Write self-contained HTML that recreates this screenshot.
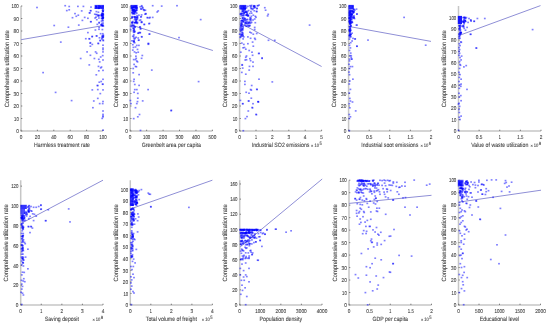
<!DOCTYPE html>
<html><head><meta charset="utf-8"><title>Scatter plots</title>
<style>html,body{margin:0;padding:0;background:#fff;}svg{display:block;}.d{fill:#00f;fill-opacity:0.5;width:1.8px;height:1.6px;}
text{text-rendering:geometricPrecision;font-family:"Liberation Sans",Arial,sans-serif;fill:#444;stroke:#444;stroke-width:0.1px;}</style></head>
<body><svg width="550" height="324" viewBox="0 0 550 324">
<defs><filter id="bl" x="0" y="0" width="550" height="324" filterUnits="userSpaceOnUse"><feGaussianBlur stdDeviation="0.3"/></filter><filter id="bt" x="0" y="0" width="550" height="324" filterUnits="userSpaceOnUse"><feGaussianBlur stdDeviation="0.45"/></filter></defs>
<rect width="550" height="324" fill="#fff"/>
<g filter="url(#bl)">
<path d="M21.0 6.0V131.0H103.0" fill="none" stroke="#c6c6c6" stroke-width="1.5"/>
<path d="M21.00 131.0v-1.3 M37.40 131.0v-1.3 M53.80 131.0v-1.3 M70.20 131.0v-1.3 M86.60 131.0v-1.3 M103.00 131.0v-1.3 M21.0 131.00h1.3 M21.0 118.50h1.3 M21.0 106.00h1.3 M21.0 93.50h1.3 M21.0 81.00h1.3 M21.0 68.50h1.3 M21.0 56.00h1.3 M21.0 43.50h1.3 M21.0 31.00h1.3 M21.0 18.50h1.3 M21.0 6.00h1.3" stroke="#666" stroke-width="0.8" fill="none"/>
<line x1="21.0" y1="39.7" x2="103.0" y2="25.6" stroke="#8f8fd6" stroke-width="1.0"/>
<rect x="94.6" y="4.9" width="9.4" height="4.1" fill="#00f" fill-opacity="0.75"/>
<rect class="d" x="36.1" y="6.7"/>
<rect class="d" x="53.3" y="24.7"/>
<rect class="d" x="59.9" y="41.3"/>
<rect class="d" x="42.2" y="71.8"/>
<rect class="d" x="54.7" y="91.6"/>
<rect class="d" x="70.7" y="99.8"/>
<rect class="d" x="64.3" y="4.9"/>
<rect class="d" x="68.3" y="5.7"/>
<rect class="d" x="77.0" y="5.6"/>
<rect class="d" x="82.5" y="5.6"/>
<rect class="d" x="65.9" y="9.8"/>
<rect class="d" x="68.3" y="9.0"/>
<rect class="d" x="80.8" y="10.1"/>
<rect class="d" x="74.1" y="12.8"/>
<rect class="d" x="89.7" y="9.8"/>
<rect class="d" x="89.0" y="12.1"/>
<rect class="d" x="75.4" y="15.5"/>
<rect class="d" x="77.4" y="14.4"/>
<rect class="d" x="71.6" y="16.9"/>
<rect class="d" x="83.8" y="16.6"/>
<rect class="d" x="87.0" y="17.5"/>
<rect class="d" x="81.5" y="19.6"/>
<rect class="d" x="90.1" y="20.9"/>
<rect class="d" x="77.9" y="24.3"/>
<rect class="d" x="67.5" y="26.4"/>
<rect class="d" x="87.0" y="31.8"/>
<rect class="d" x="95.8" y="35.2"/>
<rect class="d" x="91.4" y="35.6"/>
<rect class="d" x="84.9" y="37.9"/>
<rect class="d" x="88.3" y="37.9"/>
<rect class="d" x="89.3" y="42.4"/>
<rect class="d" x="96.4" y="23.6"/>
<rect class="d" x="98.2" y="22.2"/>
<rect class="d" x="98.2" y="26.6"/>
<rect class="d" x="98.1" y="28.5"/>
<rect class="d" x="94.5" y="29.2"/>
<rect class="d" x="101.5" y="28.8"/>
<rect class="d" x="101.9" y="32.9"/>
<rect class="d" x="99.7" y="32.9"/>
<rect class="d" x="95.6" y="35.1"/>
<rect class="d" x="91.2" y="35.9"/>
<rect class="d" x="88.6" y="38.1"/>
<rect class="d" x="98.6" y="37.0"/>
<rect class="d" x="102.3" y="36.2"/>
<rect class="d" x="99.3" y="39.6"/>
<rect class="d" x="102.3" y="39.2"/>
<rect class="d" x="97.5" y="42.8"/>
<rect class="d" x="89.5" y="41.9"/>
<rect class="d" x="91.4" y="43.6"/>
<rect class="d" x="89.5" y="45.4"/>
<rect class="d" x="97.3" y="42.5"/>
<rect class="d" x="99.4" y="39.9"/>
<rect class="d" x="102.4" y="39.9"/>
<rect class="d" x="102.1" y="44.4"/>
<rect class="d" x="102.1" y="47.3"/>
<rect class="d" x="102.1" y="48.8"/>
<rect class="d" x="102.1" y="51.1"/>
<rect class="d" x="86.2" y="51.1"/>
<rect class="d" x="94.7" y="51.1"/>
<rect class="d" x="95.8" y="52.5"/>
<rect class="d" x="89.5" y="54.5"/>
<rect class="d" x="101.8" y="54.8"/>
<rect class="d" x="99.8" y="56.2"/>
<rect class="d" x="79.8" y="57.7"/>
<rect class="d" x="93.5" y="57.7"/>
<rect class="d" x="97.9" y="58.5"/>
<rect class="d" x="102.1" y="59.2"/>
<rect class="d" x="98.8" y="61.1"/>
<rect class="d" x="88.4" y="64.1"/>
<rect class="d" x="97.6" y="65.6"/>
<rect class="d" x="99.8" y="67.1"/>
<rect class="d" x="100.6" y="66.2"/>
<rect class="d" x="102.1" y="69.6"/>
<rect class="d" x="97.9" y="70.0"/>
<rect class="d" x="95.4" y="74.0"/>
<rect class="d" x="102.1" y="78.5"/>
<rect class="d" x="98.4" y="81.4"/>
<rect class="d" x="100.3" y="80.7"/>
<rect class="d" x="101.8" y="83.3"/>
<rect class="d" x="96.9" y="84.8"/>
<rect class="d" x="96.4" y="84.7"/>
<rect class="d" x="101.8" y="83.5"/>
<rect class="d" x="91.4" y="89.1"/>
<rect class="d" x="96.9" y="88.8"/>
<rect class="d" x="102.1" y="89.1"/>
<rect class="d" x="99.4" y="92.8"/>
<rect class="d" x="96.9" y="97.6"/>
<rect class="d" x="92.9" y="100.2"/>
<rect class="d" x="98.8" y="102.8"/>
<rect class="d" x="102.1" y="100.7"/>
<rect class="d" x="101.8" y="102.8"/>
<rect class="d" x="92.0" y="106.9"/>
<rect class="d" x="102.1" y="110.2"/>
<rect class="d" x="102.1" y="113.6"/>
<rect class="d" x="102.1" y="115.1"/>
<rect class="d" x="102.1" y="116.1"/>
<rect class="d" x="101.3" y="117.6"/>
<rect class="d" x="102.1" y="129.4"/>
<rect class="d" x="90.1" y="6.3"/>
<rect class="d" x="89.8" y="10.0"/>
<rect class="d" x="88.5" y="12.1"/>
<rect class="d" x="93.9" y="13.4"/>
<rect class="d" x="94.2" y="17.2"/>
<rect class="d" x="95.9" y="18.9"/>
<rect class="d" x="98.0" y="17.2"/>
<rect class="d" x="89.8" y="20.9"/>
<rect class="d" x="98.3" y="21.6"/>
<rect class="d" x="100.5" y="6.9"/>
<rect class="d" x="95.3" y="6.0"/>
<rect class="d" x="98.1" y="6.6"/>
<rect class="d" x="102.0" y="5.4"/>
<rect class="d" x="99.7" y="6.1"/>
<rect class="d" x="98.3" y="5.6"/>
<rect class="d" x="99.6" y="5.7"/>
<rect class="d" x="98.0" y="5.1"/>
<rect class="d" x="102.0" y="6.4"/>
<rect class="d" x="98.1" y="7.1"/>
<rect class="d" x="97.7" y="7.6"/>
<rect class="d" x="94.7" y="7.4"/>
<rect class="d" x="98.1" y="7.4"/>
<rect class="d" x="101.8" y="7.9"/>
<rect class="d" x="95.9" y="7.0"/>
<rect class="d" x="95.3" y="5.5"/>
<rect class="d" x="95.2" y="5.9"/>
<rect class="d" x="100.3" y="23.9"/>
<rect class="d" x="100.9" y="22.6"/>
<rect class="d" x="101.5" y="12.4"/>
<rect class="d" x="100.9" y="14.6"/>
<rect class="d" x="101.7" y="13.0"/>
<rect class="d" x="101.6" y="24.6"/>
<rect class="d" x="102.1" y="14.1"/>
<rect class="d" x="101.3" y="17.4"/>
<rect class="d" x="100.9" y="14.7"/>
<rect class="d" x="102.4" y="9.2"/>
<rect class="d" x="100.6" y="20.3"/>
<rect class="d" x="100.5" y="14.1"/>
<rect class="d" x="102.0" y="24.9"/>
<rect class="d" x="101.1" y="12.6"/>
<rect class="d" x="102.1" y="20.0"/>
<rect class="d" x="101.4" y="14.8"/>
<rect class="d" x="101.0" y="14.1"/>
<rect class="d" x="101.9" y="17.3"/>
<rect class="d" x="100.7" y="24.2"/>
<rect class="d" x="101.9" y="24.1"/>
<rect class="d" x="102.3" y="13.2"/>
<rect class="d" x="102.2" y="22.3"/>
<rect class="d" x="101.2" y="14.6"/>
<rect class="d" x="101.5" y="19.3"/>
<rect class="d" x="100.6" y="17.5"/>
<rect class="d" x="102.3" y="17.1"/>
<rect class="d" x="101.1" y="25.0"/>
<rect class="d" x="102.4" y="25.3"/>
<rect class="d" x="100.4" y="24.0"/>
<rect class="d" x="100.7" y="15.0"/>
<rect class="d" x="102.2" y="10.7"/>
<rect class="d" x="100.6" y="13.7"/>
<rect class="d" x="100.7" y="14.9"/>
<rect class="d" x="97.6" y="15.1"/>
<rect class="d" x="95.2" y="16.3"/>
<rect class="d" x="98.4" y="14.8"/>
<rect class="d" x="95.2" y="13.8"/>
<rect class="d" x="97.5" y="11.4"/>
<rect class="d" x="97.1" y="15.0"/>
<rect class="d" x="95.5" y="10.8"/>
<rect class="d" x="97.7" y="14.2"/>
<rect class="d" x="96.3" y="13.8"/>
<rect class="d" x="102.1" y="36.7"/>
<rect class="d" x="101.6" y="36.1"/>
<rect class="d" x="101.0" y="37.1"/>
<rect class="d" x="101.0" y="38.2"/>
<rect class="d" x="102.4" y="34.3"/>
<rect class="d" x="102.2" y="35.0"/>
<rect class="d" x="101.1" y="35.3"/>
<rect class="d" x="102.4" y="35.5"/>
<rect class="d" x="101.7" y="13.0"/>
<rect class="d" x="102.3" y="16.5"/>
<rect class="d" x="101.7" y="16.7"/>
<rect class="d" x="101.8" y="9.1"/>
<rect class="d" x="102.3" y="14.5"/>
<rect class="d" x="102.2" y="10.3"/>
<rect class="d" x="102.0" y="17.7"/>
<rect class="d" x="101.6" y="18.1"/>
<rect class="d" x="102.1" y="15.8"/>
<rect class="d" x="102.1" y="16.2"/>
<rect class="d" x="101.7" y="14.7"/>
<rect class="d" x="101.7" y="10.0"/>
<rect class="d" x="101.8" y="17.6"/>
<rect class="d" x="102.3" y="13.6"/>
<rect class="d" x="102.1" y="10.7"/>
<path d="M130.2 6.0V131.0H212.4" fill="none" stroke="#c6c6c6" stroke-width="1.5"/>
<path d="M130.20 131.0v-1.3 M146.64 131.0v-1.3 M163.08 131.0v-1.3 M179.52 131.0v-1.3 M195.96 131.0v-1.3 M212.40 131.0v-1.3 M130.2 131.00h1.3 M130.2 118.50h1.3 M130.2 106.00h1.3 M130.2 93.50h1.3 M130.2 81.00h1.3 M130.2 68.50h1.3 M130.2 56.00h1.3 M130.2 43.50h1.3 M130.2 31.00h1.3 M130.2 18.50h1.3 M130.2 6.00h1.3" stroke="#666" stroke-width="0.8" fill="none"/>
<line x1="130.2" y1="24.7" x2="212.9" y2="50.5" stroke="#8f8fd6" stroke-width="1.0"/>
<rect x="130.6" y="4.9" width="6.9" height="3.7" fill="#00f" fill-opacity="0.8"/>
<rect class="d" x="140.7" y="4.9"/>
<rect class="d" x="141.8" y="6.7"/>
<rect class="d" x="140.4" y="8.4"/>
<rect class="d" x="143.1" y="9.0"/>
<rect class="d" x="144.5" y="9.4"/>
<rect class="d" x="151.8" y="4.9"/>
<rect class="d" x="160.8" y="5.3"/>
<rect class="d" x="157.3" y="10.1"/>
<rect class="d" x="156.3" y="11.2"/>
<rect class="d" x="144.8" y="12.8"/>
<rect class="d" x="140.7" y="14.1"/>
<rect class="d" x="140.0" y="16.2"/>
<rect class="d" x="146.8" y="16.9"/>
<rect class="d" x="149.1" y="16.6"/>
<rect class="d" x="151.8" y="16.6"/>
<rect class="d" x="138.6" y="19.6"/>
<rect class="d" x="140.7" y="20.9"/>
<rect class="d" x="143.4" y="23.7"/>
<rect class="d" x="148.6" y="22.6"/>
<rect class="d" x="139.3" y="26.4"/>
<rect class="d" x="139.6" y="28.0"/>
<rect class="d" x="138.2" y="31.8"/>
<rect class="d" x="139.3" y="31.8"/>
<rect class="d" x="137.3" y="32.5"/>
<rect class="d" x="148.6" y="33.2"/>
<rect class="d" x="140.7" y="35.9"/>
<rect class="d" x="137.3" y="37.2"/>
<rect class="d" x="138.0" y="39.3"/>
<rect class="d" x="147.5" y="42.7"/>
<rect class="d" x="139.3" y="6.0"/>
<rect class="d" x="141.0" y="5.6"/>
<rect class="d" x="141.7" y="7.3"/>
<rect class="d" x="140.0" y="8.0"/>
<rect class="d" x="142.4" y="8.7"/>
<rect class="d" x="143.4" y="9.7"/>
<rect class="d" x="144.1" y="13.4"/>
<rect class="d" x="145.1" y="13.1"/>
<rect class="d" x="140.3" y="15.8"/>
<rect class="d" x="138.0" y="14.4"/>
<rect class="d" x="139.7" y="19.2"/>
<rect class="d" x="146.4" y="16.8"/>
<rect class="d" x="140.7" y="21.6"/>
<rect class="d" x="148.5" y="17.2"/>
<rect class="d" x="131.2" y="22.2"/>
<rect class="d" x="133.2" y="21.9"/>
<rect class="d" x="135.2" y="21.9"/>
<rect class="d" x="136.3" y="22.6"/>
<rect class="d" x="140.7" y="21.5"/>
<rect class="d" x="131.5" y="23.9"/>
<rect class="d" x="132.9" y="24.3"/>
<rect class="d" x="129.8" y="25.3"/>
<rect class="d" x="133.5" y="25.6"/>
<rect class="d" x="134.2" y="26.3"/>
<rect class="d" x="132.5" y="26.6"/>
<rect class="d" x="143.4" y="23.6"/>
<rect class="d" x="139.0" y="26.0"/>
<rect class="d" x="139.7" y="28.0"/>
<rect class="d" x="129.8" y="28.7"/>
<rect class="d" x="133.2" y="29.0"/>
<rect class="d" x="132.5" y="30.0"/>
<rect class="d" x="137.3" y="32.4"/>
<rect class="d" x="139.3" y="31.9"/>
<rect class="d" x="132.9" y="33.8"/>
<rect class="d" x="131.9" y="35.5"/>
<rect class="d" x="135.2" y="36.5"/>
<rect class="d" x="134.2" y="37.5"/>
<rect class="d" x="133.5" y="38.5"/>
<rect class="d" x="141.0" y="36.1"/>
<rect class="d" x="137.6" y="39.5"/>
<rect class="d" x="132.9" y="41.6"/>
<rect class="d" x="148.5" y="33.4"/>
<rect class="d" x="147.5" y="42.8"/>
<rect class="d" x="148.1" y="22.9"/>
<rect class="d" x="131.9" y="43.9"/>
<rect class="d" x="135.9" y="44.6"/>
<rect class="d" x="138.0" y="44.6"/>
<rect class="d" x="132.5" y="46.6"/>
<rect class="d" x="134.6" y="46.2"/>
<rect class="d" x="136.6" y="48.6"/>
<rect class="d" x="131.9" y="49.3"/>
<rect class="d" x="133.6" y="51.1"/>
<rect class="d" x="135.3" y="52.0"/>
<rect class="d" x="137.3" y="51.4"/>
<rect class="d" x="141.4" y="54.7"/>
<rect class="d" x="135.0" y="55.4"/>
<rect class="d" x="135.3" y="57.5"/>
<rect class="d" x="140.7" y="57.5"/>
<rect class="d" x="132.8" y="58.8"/>
<rect class="d" x="134.6" y="58.8"/>
<rect class="d" x="135.9" y="60.2"/>
<rect class="d" x="136.6" y="61.1"/>
<rect class="d" x="133.2" y="63.6"/>
<rect class="d" x="134.6" y="65.6"/>
<rect class="d" x="135.5" y="66.0"/>
<rect class="d" x="132.3" y="67.7"/>
<rect class="d" x="150.9" y="69.3"/>
<rect class="d" x="132.3" y="72.0"/>
<rect class="d" x="138.2" y="73.8"/>
<rect class="d" x="133.2" y="78.5"/>
<rect class="d" x="132.8" y="80.6"/>
<rect class="d" x="133.9" y="83.7"/>
<rect class="d" x="138.2" y="84.6"/>
<rect class="d" x="147.5" y="43.5"/>
<rect class="d" x="133.9" y="88.8"/>
<rect class="d" x="135.9" y="88.8"/>
<rect class="d" x="147.2" y="88.8"/>
<rect class="d" x="133.2" y="91.5"/>
<rect class="d" x="136.9" y="92.6"/>
<rect class="d" x="136.9" y="97.4"/>
<rect class="d" x="129.5" y="99.7"/>
<rect class="d" x="136.6" y="100.8"/>
<rect class="d" x="141.8" y="100.1"/>
<rect class="d" x="130.1" y="102.8"/>
<rect class="d" x="135.9" y="102.8"/>
<rect class="d" x="134.6" y="106.9"/>
<rect class="d" x="170.3" y="110.0"/>
<rect class="d" x="138.6" y="113.7"/>
<rect class="d" x="136.9" y="116.0"/>
<rect class="d" x="132.8" y="117.8"/>
<rect class="d" x="139.6" y="129.6"/>
<rect class="d" x="176.1" y="4.9"/>
<rect class="d" x="199.8" y="18.8"/>
<rect class="d" x="178.1" y="36.8"/>
<rect class="d" x="197.7" y="80.8"/>
<rect class="d" x="170.4" y="109.4"/>
<rect class="d" x="135.5" y="5.1"/>
<rect class="d" x="135.2" y="7.5"/>
<rect class="d" x="131.2" y="7.6"/>
<rect class="d" x="135.4" y="6.1"/>
<rect class="d" x="132.9" y="6.8"/>
<rect class="d" x="133.0" y="6.6"/>
<rect class="d" x="134.3" y="5.1"/>
<rect class="d" x="135.1" y="7.0"/>
<rect class="d" x="136.2" y="7.0"/>
<rect class="d" x="134.6" y="7.1"/>
<rect class="d" x="131.7" y="6.4"/>
<rect class="d" x="136.1" y="7.7"/>
<rect class="d" x="130.7" y="7.5"/>
<rect class="d" x="134.5" y="6.1"/>
<rect class="d" x="131.4" y="7.5"/>
<rect class="d" x="132.1" y="6.7"/>
<rect class="d" x="131.1" y="6.6"/>
<rect class="d" x="133.0" y="5.8"/>
<rect class="d" x="131.9" y="9.0"/>
<rect class="d" x="135.5" y="11.6"/>
<rect class="d" x="131.0" y="11.5"/>
<rect class="d" x="135.0" y="9.7"/>
<rect class="d" x="135.8" y="12.7"/>
<rect class="d" x="133.8" y="13.3"/>
<rect class="d" x="132.1" y="9.0"/>
<rect class="d" x="132.9" y="9.6"/>
<rect class="d" x="135.9" y="9.3"/>
<rect class="d" x="132.8" y="12.8"/>
<rect class="d" x="131.2" y="9.2"/>
<rect class="d" x="133.7" y="10.5"/>
<rect class="d" x="131.1" y="11.9"/>
<rect class="d" x="135.4" y="9.1"/>
<rect class="d" x="131.7" y="9.4"/>
<rect class="d" x="133.5" y="11.8"/>
<rect class="d" x="132.4" y="12.6"/>
<rect class="d" x="131.5" y="12.9"/>
<rect class="d" x="132.2" y="9.3"/>
<rect class="d" x="132.0" y="11.4"/>
<rect class="d" x="135.7" y="9.3"/>
<rect class="d" x="134.2" y="11.2"/>
<rect class="d" x="133.5" y="12.4"/>
<rect class="d" x="132.3" y="12.9"/>
<rect class="d" x="132.7" y="10.6"/>
<rect class="d" x="133.6" y="11.3"/>
<rect class="d" x="135.3" y="21.0"/>
<rect class="d" x="136.6" y="15.9"/>
<rect class="d" x="131.9" y="20.7"/>
<rect class="d" x="135.8" y="16.9"/>
<rect class="d" x="136.4" y="21.4"/>
<rect class="d" x="131.1" y="15.8"/>
<rect class="d" x="131.3" y="21.4"/>
<rect class="d" x="136.3" y="16.8"/>
<rect class="d" x="136.5" y="16.5"/>
<rect class="d" x="133.7" y="18.9"/>
<rect class="d" x="134.4" y="15.9"/>
<rect class="d" x="131.1" y="21.6"/>
<rect class="d" x="135.8" y="18.7"/>
<rect class="d" x="135.0" y="20.9"/>
<rect class="d" x="131.1" y="16.8"/>
<rect class="d" x="135.4" y="19.8"/>
<rect class="d" x="133.6" y="16.0"/>
<rect class="d" x="131.1" y="17.1"/>
<rect class="d" x="134.7" y="18.3"/>
<rect class="d" x="134.8" y="21.9"/>
<rect class="d" x="133.8" y="16.9"/>
<rect class="d" x="136.5" y="22.1"/>
<rect class="d" x="133.7" y="21.7"/>
<rect class="d" x="133.5" y="15.9"/>
<rect class="d" x="134.1" y="21.8"/>
<rect class="d" x="135.2" y="16.6"/>
<rect class="d" x="131.3" y="22.1"/>
<rect class="d" x="134.9" y="19.4"/>
<rect class="d" x="135.4" y="21.6"/>
<rect class="d" x="135.7" y="18.6"/>
<rect class="d" x="131.8" y="16.2"/>
<rect class="d" x="134.2" y="17.1"/>
<rect class="d" x="136.6" y="17.9"/>
<rect class="d" x="136.2" y="15.0"/>
<rect class="d" x="131.1" y="40.0"/>
<rect class="d" x="133.1" y="29.6"/>
<rect class="d" x="133.4" y="30.8"/>
<rect class="d" x="133.2" y="40.3"/>
<rect class="d" x="132.9" y="37.1"/>
<rect class="d" x="132.7" y="31.3"/>
<rect class="d" x="133.3" y="28.0"/>
<rect class="d" x="133.0" y="40.4"/>
<rect class="d" x="134.0" y="30.5"/>
<rect class="d" x="131.2" y="24.9"/>
<rect class="d" x="132.5" y="27.7"/>
<rect class="d" x="132.5" y="27.8"/>
<rect class="d" x="134.0" y="26.2"/>
<rect class="d" x="133.6" y="31.4"/>
<rect class="d" x="133.8" y="41.9"/>
<rect class="d" x="132.6" y="25.2"/>
<rect class="d" x="132.7" y="40.4"/>
<rect class="d" x="132.8" y="35.3"/>
<rect class="d" x="130.8" y="25.9"/>
<rect class="d" x="131.7" y="10.3"/>
<rect class="d" x="132.6" y="10.7"/>
<rect class="d" x="133.5" y="8.8"/>
<rect class="d" x="134.7" y="10.0"/>
<rect class="d" x="131.6" y="8.9"/>
<rect class="d" x="134.1" y="10.6"/>
<rect class="d" x="133.9" y="9.0"/>
<rect class="d" x="132.5" y="10.0"/>
<rect class="d" x="134.4" y="10.2"/>
<rect class="d" x="133.2" y="9.3"/>
<rect class="d" x="133.3" y="9.5"/>
<rect class="d" x="132.3" y="9.1"/>
<path d="M239.6 6.0V131.0H321.6" fill="none" stroke="#c6c6c6" stroke-width="1.5"/>
<path d="M239.60 131.0v-1.3 M256.00 131.0v-1.3 M272.40 131.0v-1.3 M288.80 131.0v-1.3 M305.20 131.0v-1.3 M321.60 131.0v-1.3 M239.6 131.00h1.3 M239.6 118.50h1.3 M239.6 106.00h1.3 M239.6 93.50h1.3 M239.6 81.00h1.3 M239.6 68.50h1.3 M239.6 56.00h1.3 M239.6 43.50h1.3 M239.6 31.00h1.3 M239.6 18.50h1.3 M239.6 6.00h1.3" stroke="#666" stroke-width="0.8" fill="none"/>
<line x1="239.6" y1="22.8" x2="321.6" y2="66.5" stroke="#8f8fd6" stroke-width="1.0"/>
<rect x="239.4" y="4.9" width="6.6" height="4.3" fill="#00f" fill-opacity="0.75"/>
<rect class="d" x="249.0" y="4.9"/>
<rect class="d" x="250.7" y="4.6"/>
<rect class="d" x="253.1" y="5.6"/>
<rect class="d" x="256.5" y="4.9"/>
<rect class="d" x="254.4" y="6.6"/>
<rect class="d" x="256.1" y="7.6"/>
<rect class="d" x="251.7" y="8.7"/>
<rect class="d" x="253.4" y="10.0"/>
<rect class="d" x="250.0" y="10.7"/>
<rect class="d" x="255.8" y="11.0"/>
<rect class="d" x="248.7" y="12.7"/>
<rect class="d" x="250.7" y="12.4"/>
<rect class="d" x="252.4" y="14.4"/>
<rect class="d" x="250.4" y="15.5"/>
<rect class="d" x="254.4" y="15.5"/>
<rect class="d" x="249.0" y="17.2"/>
<rect class="d" x="253.8" y="18.2"/>
<rect class="d" x="252.1" y="19.2"/>
<rect class="d" x="250.0" y="19.9"/>
<rect class="d" x="246.3" y="20.9"/>
<rect class="d" x="248.0" y="21.6"/>
<rect class="d" x="244.9" y="22.2"/>
<rect class="d" x="254.4" y="21.9"/>
<rect class="d" x="250.7" y="21.6"/>
<rect class="d" x="253.8" y="26.6"/>
<rect class="d" x="253.8" y="28.7"/>
<rect class="d" x="239.5" y="28.0"/>
<rect class="d" x="242.2" y="26.6"/>
<rect class="d" x="249.0" y="31.4"/>
<rect class="d" x="250.4" y="32.1"/>
<rect class="d" x="255.8" y="32.7"/>
<rect class="d" x="252.4" y="33.4"/>
<rect class="d" x="240.2" y="34.8"/>
<rect class="d" x="242.2" y="34.8"/>
<rect class="d" x="239.5" y="36.1"/>
<rect class="d" x="242.9" y="36.1"/>
<rect class="d" x="247.0" y="36.1"/>
<rect class="d" x="249.7" y="37.5"/>
<rect class="d" x="253.8" y="37.5"/>
<rect class="d" x="254.4" y="38.6"/>
<rect class="d" x="267.6" y="39.5"/>
<rect class="d" x="273.9" y="39.5"/>
<rect class="d" x="240.9" y="42.3"/>
<rect class="d" x="251.7" y="41.3"/>
<rect class="d" x="242.9" y="43.6"/>
<rect class="d" x="247.0" y="42.9"/>
<rect class="d" x="252.4" y="45.4"/>
<rect class="d" x="242.2" y="47.0"/>
<rect class="d" x="243.6" y="46.7"/>
<rect class="d" x="244.9" y="48.4"/>
<rect class="d" x="248.3" y="49.7"/>
<rect class="d" x="239.9" y="51.4"/>
<rect class="d" x="251.1" y="51.4"/>
<rect class="d" x="257.8" y="52.7"/>
<rect class="d" x="251.7" y="54.5"/>
<rect class="d" x="245.6" y="55.2"/>
<rect class="d" x="244.9" y="56.5"/>
<rect class="d" x="261.2" y="57.6"/>
<rect class="d" x="249.0" y="57.9"/>
<rect class="d" x="245.6" y="59.0"/>
<rect class="d" x="244.3" y="59.2"/>
<rect class="d" x="249.7" y="59.9"/>
<rect class="d" x="252.1" y="61.3"/>
<rect class="d" x="241.3" y="64.4"/>
<rect class="d" x="238.8" y="33.4"/>
<rect class="d" x="240.2" y="29.4"/>
<rect class="d" x="241.3" y="63.9"/>
<rect class="d" x="248.6" y="65.6"/>
<rect class="d" x="252.1" y="65.6"/>
<rect class="d" x="241.8" y="67.3"/>
<rect class="d" x="248.3" y="69.3"/>
<rect class="d" x="240.9" y="71.6"/>
<rect class="d" x="244.9" y="73.4"/>
<rect class="d" x="258.1" y="78.4"/>
<rect class="d" x="244.0" y="80.6"/>
<rect class="d" x="271.4" y="81.1"/>
<rect class="d" x="244.0" y="83.6"/>
<rect class="d" x="250.8" y="84.7"/>
<rect class="d" x="249.7" y="88.7"/>
<rect class="d" x="250.4" y="89.3"/>
<rect class="d" x="256.2" y="88.7"/>
<rect class="d" x="245.3" y="91.5"/>
<rect class="d" x="248.1" y="92.4"/>
<rect class="d" x="250.4" y="97.4"/>
<rect class="d" x="239.5" y="99.6"/>
<rect class="d" x="247.6" y="100.2"/>
<rect class="d" x="257.2" y="101.0"/>
<rect class="d" x="241.8" y="102.9"/>
<rect class="d" x="252.1" y="102.9"/>
<rect class="d" x="251.3" y="106.7"/>
<rect class="d" x="247.9" y="100.2"/>
<rect class="d" x="257.6" y="101.1"/>
<rect class="d" x="241.9" y="102.9"/>
<rect class="d" x="251.6" y="107.1"/>
<rect class="d" x="247.4" y="110.2"/>
<rect class="d" x="255.5" y="113.9"/>
<rect class="d" x="246.1" y="115.8"/>
<rect class="d" x="244.5" y="117.8"/>
<rect class="d" x="242.4" y="129.9"/>
<rect class="d" x="257.1" y="4.9"/>
<rect class="d" x="258.2" y="4.3"/>
<rect class="d" x="256.1" y="7.8"/>
<rect class="d" x="263.9" y="6.9"/>
<rect class="d" x="264.7" y="9.4"/>
<rect class="d" x="267.3" y="13.5"/>
<rect class="d" x="266.7" y="15.1"/>
<rect class="d" x="255.7" y="10.4"/>
<rect class="d" x="255.1" y="16.5"/>
<rect class="d" x="308.7" y="24.3"/>
<rect class="d" x="258.2" y="52.6"/>
<rect class="d" x="261.2" y="57.2"/>
<rect class="d" x="255.9" y="88.5"/>
<rect class="d" x="257.2" y="100.8"/>
<rect class="d" x="255.2" y="113.6"/>
<rect class="d" x="243.2" y="6.6"/>
<rect class="d" x="241.0" y="5.4"/>
<rect class="d" x="242.9" y="7.4"/>
<rect class="d" x="243.9" y="7.7"/>
<rect class="d" x="242.6" y="5.1"/>
<rect class="d" x="241.0" y="8.1"/>
<rect class="d" x="242.5" y="7.2"/>
<rect class="d" x="244.3" y="7.9"/>
<rect class="d" x="240.6" y="6.8"/>
<rect class="d" x="244.2" y="8.6"/>
<rect class="d" x="241.5" y="8.5"/>
<rect class="d" x="245.6" y="7.0"/>
<rect class="d" x="243.6" y="8.6"/>
<rect class="d" x="242.6" y="6.1"/>
<rect class="d" x="245.2" y="5.3"/>
<rect class="d" x="244.6" y="7.5"/>
<rect class="d" x="242.3" y="8.7"/>
<rect class="d" x="243.8" y="5.5"/>
<rect class="d" x="242.4" y="8.7"/>
<rect class="d" x="240.0" y="8.1"/>
<rect class="d" x="250.7" y="7.7"/>
<rect class="d" x="253.6" y="5.2"/>
<rect class="d" x="249.8" y="6.6"/>
<rect class="d" x="250.3" y="7.8"/>
<rect class="d" x="247.0" y="5.5"/>
<rect class="d" x="252.3" y="7.8"/>
<rect class="d" x="253.8" y="5.2"/>
<rect class="d" x="252.9" y="4.9"/>
<rect class="d" x="252.6" y="5.7"/>
<rect class="d" x="253.6" y="7.1"/>
<rect class="d" x="250.1" y="5.4"/>
<rect class="d" x="253.4" y="6.3"/>
<rect class="d" x="247.7" y="9.7"/>
<rect class="d" x="243.2" y="9.7"/>
<rect class="d" x="241.9" y="15.1"/>
<rect class="d" x="242.4" y="9.8"/>
<rect class="d" x="242.8" y="13.7"/>
<rect class="d" x="245.8" y="14.3"/>
<rect class="d" x="240.5" y="12.5"/>
<rect class="d" x="243.2" y="12.0"/>
<rect class="d" x="244.7" y="10.1"/>
<rect class="d" x="247.0" y="14.4"/>
<rect class="d" x="244.6" y="11.3"/>
<rect class="d" x="239.8" y="12.9"/>
<rect class="d" x="247.8" y="15.2"/>
<rect class="d" x="246.8" y="15.2"/>
<rect class="d" x="245.6" y="11.3"/>
<rect class="d" x="246.1" y="13.8"/>
<rect class="d" x="245.3" y="14.2"/>
<rect class="d" x="246.8" y="14.9"/>
<rect class="d" x="243.0" y="14.8"/>
<rect class="d" x="240.2" y="13.7"/>
<rect class="d" x="245.1" y="11.3"/>
<rect class="d" x="244.2" y="11.7"/>
<rect class="d" x="246.2" y="13.1"/>
<rect class="d" x="245.3" y="14.4"/>
<rect class="d" x="241.5" y="10.0"/>
<rect class="d" x="247.2" y="14.4"/>
<rect class="d" x="241.5" y="10.5"/>
<rect class="d" x="246.6" y="10.6"/>
<rect class="d" x="243.0" y="11.0"/>
<rect class="d" x="241.0" y="13.0"/>
<rect class="d" x="246.2" y="12.1"/>
<rect class="d" x="245.3" y="11.2"/>
<rect class="d" x="241.4" y="12.6"/>
<rect class="d" x="240.4" y="15.1"/>
<rect class="d" x="241.6" y="14.4"/>
<rect class="d" x="242.9" y="12.8"/>
<rect class="d" x="241.8" y="10.9"/>
<rect class="d" x="243.3" y="12.2"/>
<rect class="d" x="239.5" y="13.5"/>
<rect class="d" x="242.9" y="20.6"/>
<rect class="d" x="247.8" y="22.1"/>
<rect class="d" x="244.6" y="18.8"/>
<rect class="d" x="240.9" y="20.1"/>
<rect class="d" x="244.1" y="19.5"/>
<rect class="d" x="243.9" y="17.9"/>
<rect class="d" x="244.2" y="17.7"/>
<rect class="d" x="249.9" y="17.1"/>
<rect class="d" x="242.9" y="18.7"/>
<rect class="d" x="241.3" y="20.1"/>
<rect class="d" x="241.9" y="17.0"/>
<rect class="d" x="241.1" y="19.4"/>
<rect class="d" x="243.2" y="17.2"/>
<rect class="d" x="241.6" y="17.3"/>
<rect class="d" x="248.6" y="19.0"/>
<rect class="d" x="248.6" y="21.1"/>
<rect class="d" x="242.5" y="20.8"/>
<rect class="d" x="244.9" y="20.5"/>
<rect class="d" x="249.6" y="18.7"/>
<rect class="d" x="246.4" y="18.5"/>
<rect class="d" x="242.7" y="19.1"/>
<rect class="d" x="249.7" y="22.3"/>
<rect class="d" x="246.6" y="22.0"/>
<rect class="d" x="241.9" y="19.8"/>
<rect class="d" x="249.9" y="18.3"/>
<rect class="d" x="245.9" y="19.1"/>
<rect class="d" x="241.7" y="17.6"/>
<rect class="d" x="240.1" y="20.2"/>
<rect class="d" x="240.4" y="22.1"/>
<rect class="d" x="242.2" y="21.1"/>
<rect class="d" x="245.1" y="22.1"/>
<rect class="d" x="241.5" y="25.4"/>
<rect class="d" x="247.8" y="25.4"/>
<rect class="d" x="246.0" y="23.0"/>
<rect class="d" x="244.0" y="22.1"/>
<rect class="d" x="240.2" y="24.7"/>
<rect class="d" x="239.8" y="23.7"/>
<rect class="d" x="240.1" y="24.7"/>
<rect class="d" x="247.4" y="22.8"/>
<rect class="d" x="240.8" y="22.0"/>
<rect class="d" x="244.6" y="22.2"/>
<rect class="d" x="241.1" y="23.2"/>
<rect class="d" x="249.1" y="24.6"/>
<rect class="d" x="248.6" y="25.2"/>
<rect class="d" x="240.8" y="23.9"/>
<rect class="d" x="248.7" y="22.2"/>
<rect class="d" x="247.9" y="24.7"/>
<rect class="d" x="246.5" y="24.7"/>
<rect class="d" x="244.7" y="25.2"/>
<rect class="d" x="245.9" y="25.5"/>
<rect class="d" x="244.1" y="24.0"/>
<rect class="d" x="241.1" y="28.1"/>
<rect class="d" x="241.3" y="28.4"/>
<rect class="d" x="240.9" y="29.5"/>
<rect class="d" x="241.9" y="33.0"/>
<rect class="d" x="241.7" y="34.2"/>
<rect class="d" x="242.2" y="38.1"/>
<rect class="d" x="239.7" y="26.3"/>
<rect class="d" x="241.8" y="31.8"/>
<rect class="d" x="240.9" y="33.4"/>
<rect class="d" x="240.4" y="35.1"/>
<rect class="d" x="239.9" y="30.9"/>
<rect class="d" x="242.1" y="25.2"/>
<rect class="d" x="239.7" y="33.4"/>
<rect class="d" x="241.9" y="29.2"/>
<rect class="d" x="241.1" y="33.7"/>
<rect class="d" x="241.5" y="35.5"/>
<rect class="d" x="242.1" y="27.8"/>
<rect class="d" x="239.6" y="36.7"/>
<rect class="d" x="241.2" y="31.5"/>
<rect class="d" x="240.4" y="27.0"/>
<rect class="d" x="239.5" y="29.2"/>
<rect class="d" x="240.3" y="25.4"/>
<path d="M348.6 6.0V131.0H431.0" fill="none" stroke="#c6c6c6" stroke-width="1.5"/>
<path d="M348.60 131.0v-1.3 M369.20 131.0v-1.3 M389.80 131.0v-1.3 M410.40 131.0v-1.3 M431.00 131.0v-1.3 M348.6 131.00h1.3 M348.6 118.50h1.3 M348.6 106.00h1.3 M348.6 93.50h1.3 M348.6 81.00h1.3 M348.6 68.50h1.3 M348.6 56.00h1.3 M348.6 43.50h1.3 M348.6 31.00h1.3 M348.6 18.50h1.3 M348.6 6.00h1.3" stroke="#666" stroke-width="0.8" fill="none"/>
<line x1="348.6" y1="26.4" x2="431.0" y2="41.4" stroke="#8f8fd6" stroke-width="1.0"/>
<rect x="348.4" y="4.9" width="5.4" height="4.6" fill="#00f" fill-opacity="0.85"/>
<rect x="348.4" y="9.5" width="2.4" height="12.5" fill="#00f" fill-opacity="0.6"/>
<rect class="d" x="355.6" y="8.3"/>
<rect class="d" x="353.9" y="9.3"/>
<rect class="d" x="356.0" y="13.4"/>
<rect class="d" x="353.6" y="17.8"/>
<rect class="d" x="351.5" y="21.6"/>
<rect class="d" x="355.5" y="24.3"/>
<rect class="d" x="351.2" y="32.4"/>
<rect class="d" x="352.1" y="37.6"/>
<rect class="d" x="354.3" y="38.1"/>
<rect class="d" x="367.1" y="39.3"/>
<rect class="d" x="351.2" y="40.2"/>
<rect class="d" x="356.0" y="45.4"/>
<rect class="d" x="351.5" y="65.8"/>
<rect class="d" x="350.8" y="58.3"/>
<rect class="d" x="350.3" y="54.9"/>
<rect class="d" x="403.2" y="16.6"/>
<rect class="d" x="424.8" y="44.4"/>
<rect class="d" x="356.1" y="45.5"/>
<rect class="d" x="356.1" y="24.3"/>
<rect class="d" x="356.1" y="13.1"/>
<rect class="d" x="354.1" y="38.2"/>
<rect class="d" x="352.0" y="78.4"/>
<rect class="d" x="348.9" y="80.2"/>
<rect class="d" x="348.4" y="83.2"/>
<rect class="d" x="349.5" y="88.6"/>
<rect class="d" x="348.4" y="92.2"/>
<rect class="d" x="348.9" y="97.6"/>
<rect class="d" x="349.5" y="100.2"/>
<rect class="d" x="351.6" y="101.2"/>
<rect class="d" x="348.4" y="102.9"/>
<rect class="d" x="348.9" y="107.0"/>
<rect class="d" x="354.8" y="110.1"/>
<rect class="d" x="348.4" y="113.7"/>
<rect class="d" x="349.5" y="116.0"/>
<rect class="d" x="348.4" y="117.8"/>
<rect class="d" x="348.4" y="129.8"/>
<rect class="d" x="349.8" y="41.9"/>
<rect class="d" x="348.6" y="44.5"/>
<rect class="d" x="349.5" y="47.1"/>
<rect class="d" x="348.6" y="49.7"/>
<rect class="d" x="349.8" y="52.3"/>
<rect class="d" x="349.1" y="54.9"/>
<rect class="d" x="350.3" y="56.6"/>
<rect class="d" x="348.6" y="58.3"/>
<rect class="d" x="350.8" y="58.3"/>
<rect class="d" x="348.6" y="60.1"/>
<rect class="d" x="348.1" y="63.5"/>
<rect class="d" x="349.5" y="65.8"/>
<rect class="d" x="348.6" y="67.8"/>
<rect class="d" x="348.1" y="71.3"/>
<rect class="d" x="348.6" y="73.9"/>
<rect class="d" x="349.3" y="27.9"/>
<rect class="d" x="349.7" y="29.3"/>
<rect class="d" x="349.2" y="22.4"/>
<rect class="d" x="349.0" y="29.8"/>
<rect class="d" x="349.2" y="23.4"/>
<rect class="d" x="348.9" y="27.6"/>
<rect class="d" x="350.0" y="33.8"/>
<rect class="d" x="350.0" y="22.5"/>
<rect class="d" x="348.8" y="30.8"/>
<rect class="d" x="348.5" y="25.8"/>
<rect class="d" x="349.4" y="22.0"/>
<rect class="d" x="349.1" y="22.5"/>
<rect class="d" x="348.8" y="36.7"/>
<rect class="d" x="349.1" y="26.4"/>
<rect class="d" x="350.0" y="36.0"/>
<rect class="d" x="348.9" y="29.0"/>
<rect class="d" x="348.8" y="34.5"/>
<rect class="d" x="349.2" y="34.6"/>
<rect class="d" x="349.8" y="24.2"/>
<rect class="d" x="348.6" y="34.2"/>
<rect class="d" x="350.0" y="25.0"/>
<rect class="d" x="349.9" y="25.3"/>
<rect class="d" x="349.0" y="32.5"/>
<rect class="d" x="348.7" y="30.4"/>
<rect class="d" x="349.2" y="23.6"/>
<rect class="d" x="348.5" y="29.1"/>
<rect class="d" x="349.3" y="30.3"/>
<rect class="d" x="348.5" y="29.1"/>
<rect class="d" x="350.2" y="33.6"/>
<rect class="d" x="349.0" y="33.4"/>
<rect class="d" x="349.1" y="31.4"/>
<rect class="d" x="348.6" y="22.0"/>
<rect class="d" x="349.7" y="29.6"/>
<rect class="d" x="348.5" y="38.4"/>
<rect class="d" x="349.5" y="25.9"/>
<rect class="d" x="349.3" y="35.2"/>
<rect class="d" x="349.3" y="33.6"/>
<rect class="d" x="348.4" y="35.1"/>
<rect class="d" x="349.4" y="27.8"/>
<rect class="d" x="349.6" y="20.8"/>
<rect class="d" x="351.0" y="13.4"/>
<rect class="d" x="350.7" y="13.8"/>
<rect class="d" x="349.9" y="10.3"/>
<rect class="d" x="349.4" y="15.8"/>
<rect class="d" x="348.5" y="21.2"/>
<rect class="d" x="350.5" y="21.2"/>
<rect class="d" x="349.8" y="11.9"/>
<rect class="d" x="349.5" y="10.4"/>
<rect class="d" x="349.8" y="15.6"/>
<rect class="d" x="349.1" y="19.5"/>
<rect class="d" x="350.3" y="22.2"/>
<rect class="d" x="349.5" y="17.4"/>
<rect class="d" x="348.8" y="14.5"/>
<rect class="d" x="350.4" y="13.5"/>
<rect class="d" x="350.6" y="16.2"/>
<rect class="d" x="348.9" y="10.8"/>
<rect class="d" x="348.6" y="17.4"/>
<rect class="d" x="349.1" y="13.8"/>
<rect class="d" x="350.9" y="10.0"/>
<rect class="d" x="349.7" y="18.2"/>
<rect class="d" x="349.0" y="22.0"/>
<rect class="d" x="350.9" y="17.8"/>
<rect class="d" x="348.9" y="13.4"/>
<rect class="d" x="349.1" y="12.6"/>
<rect class="d" x="348.6" y="20.5"/>
<rect class="d" x="350.5" y="9.9"/>
<rect class="d" x="351.1" y="16.3"/>
<rect class="d" x="350.9" y="13.6"/>
<rect class="d" x="350.7" y="11.2"/>
<rect class="d" x="348.9" y="16.4"/>
<rect class="d" x="350.4" y="14.6"/>
<rect class="d" x="350.7" y="13.7"/>
<rect class="d" x="351.0" y="15.1"/>
<rect class="d" x="350.8" y="18.8"/>
<rect class="d" x="348.9" y="10.1"/>
<rect class="d" x="349.5" y="19.7"/>
<rect class="d" x="349.7" y="18.4"/>
<rect class="d" x="349.1" y="21.3"/>
<rect class="d" x="349.4" y="12.2"/>
<rect class="d" x="348.6" y="12.2"/>
<rect class="d" x="348.8" y="11.7"/>
<rect class="d" x="348.4" y="17.0"/>
<rect class="d" x="350.8" y="14.0"/>
<rect class="d" x="351.2" y="21.6"/>
<rect class="d" x="350.2" y="13.7"/>
<rect class="d" x="351.1" y="12.8"/>
<rect class="d" x="349.2" y="20.4"/>
<rect class="d" x="349.7" y="19.7"/>
<rect class="d" x="349.6" y="18.5"/>
<rect class="d" x="348.7" y="14.5"/>
<rect class="d" x="351.0" y="20.7"/>
<rect class="d" x="350.0" y="16.4"/>
<rect class="d" x="353.2" y="17.0"/>
<rect class="d" x="351.8" y="10.2"/>
<rect class="d" x="351.9" y="10.8"/>
<rect class="d" x="353.0" y="11.4"/>
<rect class="d" x="352.7" y="16.0"/>
<rect class="d" x="351.9" y="10.4"/>
<rect class="d" x="352.0" y="17.0"/>
<rect class="d" x="353.1" y="16.3"/>
<rect class="d" x="352.3" y="12.1"/>
<rect class="d" x="353.2" y="10.4"/>
<rect class="d" x="352.3" y="12.0"/>
<rect class="d" x="352.6" y="11.4"/>
<rect class="d" x="352.8" y="17.3"/>
<rect class="d" x="352.7" y="8.4"/>
<rect class="d" x="351.7" y="10.4"/>
<rect class="d" x="353.0" y="14.9"/>
<rect class="d" x="353.0" y="8.6"/>
<rect class="d" x="351.8" y="6.0"/>
<path d="M458.5 6.0V131.0H541.0" fill="none" stroke="#c6c6c6" stroke-width="1.5"/>
<path d="M458.50 131.0v-1.3 M479.12 131.0v-1.3 M499.75 131.0v-1.3 M520.38 131.0v-1.3 M541.00 131.0v-1.3 M458.5 131.00h1.3 M458.5 119.64h1.3 M458.5 108.27h1.3 M458.5 96.91h1.3 M458.5 85.55h1.3 M458.5 74.18h1.3 M458.5 62.82h1.3 M458.5 51.45h1.3 M458.5 40.09h1.3 M458.5 28.73h1.3 M458.5 17.36h1.3" stroke="#666" stroke-width="0.8" fill="none"/>
<line x1="458.5" y1="35.7" x2="540.5" y2="5.6" stroke="#8f8fd6" stroke-width="1.0"/>
<rect x="457.8" y="15.9" width="4.2" height="8.1" fill="#00f" fill-opacity="0.9"/>
<rect class="d" x="463.7" y="16.4"/>
<rect class="d" x="465.5" y="16.8"/>
<rect class="d" x="468.1" y="17.7"/>
<rect class="d" x="469.8" y="19.0"/>
<rect class="d" x="470.2" y="20.3"/>
<rect class="d" x="476.5" y="17.7"/>
<rect class="d" x="473.4" y="20.5"/>
<rect class="d" x="467.2" y="21.6"/>
<rect class="d" x="463.3" y="22.0"/>
<rect class="d" x="464.2" y="19.8"/>
<rect class="d" x="462.4" y="24.6"/>
<rect class="d" x="466.2" y="26.6"/>
<rect class="d" x="463.3" y="27.6"/>
<rect class="d" x="464.6" y="29.4"/>
<rect class="d" x="461.1" y="25.5"/>
<rect class="d" x="459.9" y="31.5"/>
<rect class="d" x="460.3" y="31.9"/>
<rect class="d" x="469.4" y="33.5"/>
<rect class="d" x="458.1" y="33.2"/>
<rect class="d" x="458.6" y="35.4"/>
<rect class="d" x="458.1" y="37.6"/>
<rect class="d" x="458.4" y="36.0"/>
<rect class="d" x="459.1" y="37.5"/>
<rect class="d" x="459.9" y="41.1"/>
<rect class="d" x="460.4" y="41.5"/>
<rect class="d" x="458.4" y="42.9"/>
<rect class="d" x="459.1" y="44.8"/>
<rect class="d" x="458.1" y="46.8"/>
<rect class="d" x="458.7" y="48.8"/>
<rect class="d" x="475.3" y="47.2"/>
<rect class="d" x="458.1" y="50.6"/>
<rect class="d" x="458.7" y="52.5"/>
<rect class="d" x="458.1" y="54.5"/>
<rect class="d" x="460.7" y="55.3"/>
<rect class="d" x="459.1" y="56.8"/>
<rect class="d" x="460.2" y="59.1"/>
<rect class="d" x="458.7" y="60.7"/>
<rect class="d" x="459.1" y="63.7"/>
<rect class="d" x="459.6" y="64.5"/>
<rect class="d" x="463.0" y="66.1"/>
<rect class="d" x="465.3" y="64.8"/>
<rect class="d" x="458.7" y="67.6"/>
<rect class="d" x="458.1" y="71.5"/>
<rect class="d" x="459.1" y="73.8"/>
<rect class="d" x="458.4" y="76.6"/>
<rect class="d" x="460.2" y="78.4"/>
<rect class="d" x="458.1" y="80.7"/>
<rect class="d" x="460.2" y="83.3"/>
<rect class="d" x="458.7" y="84.0"/>
<rect class="d" x="459.9" y="85.5"/>
<rect class="d" x="458.4" y="87.5"/>
<rect class="d" x="466.1" y="88.6"/>
<rect class="d" x="458.1" y="92.5"/>
<rect class="d" x="459.9" y="94.8"/>
<rect class="d" x="458.4" y="96.3"/>
<rect class="d" x="460.2" y="99.9"/>
<rect class="d" x="458.1" y="102.5"/>
<rect class="d" x="457.6" y="103.3"/>
<rect class="d" x="458.7" y="105.6"/>
<rect class="d" x="458.1" y="108.7"/>
<rect class="d" x="458.4" y="111.7"/>
<rect class="d" x="460.2" y="115.3"/>
<rect class="d" x="458.4" y="116.4"/>
<rect class="d" x="459.1" y="118.7"/>
<rect class="d" x="457.6" y="129.5"/>
<rect class="d" x="470.0" y="19.6"/>
<rect class="d" x="473.2" y="20.5"/>
<rect class="d" x="483.9" y="17.7"/>
<rect class="d" x="470.0" y="33.5"/>
<rect class="d" x="475.6" y="47.3"/>
<rect class="d" x="531.7" y="28.8"/>
<rect class="d" x="463.3" y="21.3"/>
<rect class="d" x="464.0" y="19.7"/>
<rect class="d" x="463.6" y="17.0"/>
<rect class="d" x="464.7" y="20.6"/>
<rect class="d" x="462.7" y="19.5"/>
<rect class="d" x="464.2" y="19.9"/>
<rect class="d" x="464.6" y="20.6"/>
<rect class="d" x="463.2" y="18.7"/>
<rect class="d" x="464.3" y="16.8"/>
<rect class="d" x="462.1" y="16.8"/>
<rect class="d" x="464.7" y="17.8"/>
<rect class="d" x="463.0" y="16.6"/>
<rect class="d" x="462.4" y="21.2"/>
<rect class="d" x="462.2" y="21.3"/>
<rect class="d" x="463.8" y="17.3"/>
<rect class="d" x="462.1" y="20.8"/>
<rect class="d" x="463.2" y="21.1"/>
<rect class="d" x="462.2" y="20.3"/>
<rect class="d" x="459.5" y="32.4"/>
<rect class="d" x="459.1" y="31.5"/>
<rect class="d" x="459.0" y="26.4"/>
<rect class="d" x="458.3" y="28.9"/>
<rect class="d" x="459.6" y="24.2"/>
<rect class="d" x="458.3" y="33.6"/>
<rect class="d" x="459.2" y="29.8"/>
<rect class="d" x="459.3" y="25.5"/>
<rect class="d" x="459.0" y="28.1"/>
<rect class="d" x="459.6" y="29.1"/>
<rect class="d" x="459.4" y="33.6"/>
<rect class="d" x="459.1" y="32.3"/>
<rect class="d" x="459.2" y="34.0"/>
<rect class="d" x="459.0" y="26.6"/>
<rect class="d" x="460.1" y="31.7"/>
<rect class="d" x="458.3" y="27.7"/>
<rect class="d" x="459.1" y="24.6"/>
<rect class="d" x="458.5" y="25.1"/>
<rect class="d" x="458.2" y="24.9"/>
<rect class="d" x="459.9" y="32.7"/>
<rect class="d" x="459.1" y="27.5"/>
<rect class="d" x="459.9" y="32.0"/>
<rect class="d" x="462.5" y="25.0"/>
<rect class="d" x="463.2" y="23.1"/>
<rect class="d" x="462.8" y="26.1"/>
<rect class="d" x="462.3" y="25.8"/>
<path d="M20.7 180.2V305.0H103.0" fill="none" stroke="#c6c6c6" stroke-width="1.5"/>
<path d="M20.70 305.0v-1.3 M41.27 305.0v-1.3 M61.85 305.0v-1.3 M82.42 305.0v-1.3 M103.00 305.0v-1.3 M20.7 305.00h1.3 M20.7 285.19h1.3 M20.7 265.38h1.3 M20.7 245.57h1.3 M20.7 225.76h1.3 M20.7 205.95h1.3 M20.7 186.14h1.3" stroke="#666" stroke-width="0.8" fill="none"/>
<line x1="21.0" y1="223.5" x2="103.0" y2="180.2" stroke="#8f8fd6" stroke-width="1.0"/>
<rect x="20.4" y="204.8" width="6.4" height="4.2" fill="#00f" fill-opacity="0.8"/>
<rect x="20.4" y="209" width="4.6" height="5.0" fill="#00f" fill-opacity="0.7"/>
<rect class="d" x="28.3" y="204.8"/>
<rect class="d" x="30.1" y="205.7"/>
<rect class="d" x="32.7" y="206.5"/>
<rect class="d" x="35.3" y="206.5"/>
<rect class="d" x="37.8" y="205.7"/>
<rect class="d" x="40.0" y="204.6"/>
<rect class="d" x="40.3" y="208.3"/>
<rect class="d" x="30.1" y="210.0"/>
<rect class="d" x="30.9" y="210.4"/>
<rect class="d" x="31.8" y="213.0"/>
<rect class="d" x="33.5" y="213.5"/>
<rect class="d" x="35.3" y="215.4"/>
<rect class="d" x="29.2" y="215.6"/>
<rect class="d" x="25.7" y="215.2"/>
<rect class="d" x="27.9" y="217.8"/>
<rect class="d" x="32.7" y="219.8"/>
<rect class="d" x="24.4" y="219.5"/>
<rect class="d" x="23.1" y="219.9"/>
<rect class="d" x="21.4" y="218.2"/>
<rect class="d" x="44.6" y="219.9"/>
<rect class="d" x="20.6" y="223.8"/>
<rect class="d" x="27.5" y="225.6"/>
<rect class="d" x="30.1" y="225.6"/>
<rect class="d" x="21.4" y="226.0"/>
<rect class="d" x="40.0" y="204.2"/>
<rect class="d" x="40.0" y="208.5"/>
<rect class="d" x="47.4" y="209.0"/>
<rect class="d" x="67.8" y="208.1"/>
<rect class="d" x="45.0" y="219.9"/>
<rect class="d" x="69.1" y="221.1"/>
<rect class="d" x="27.7" y="226.0"/>
<rect class="d" x="30.4" y="226.0"/>
<rect class="d" x="31.5" y="227.3"/>
<rect class="d" x="29.1" y="231.8"/>
<rect class="d" x="27.0" y="248.4"/>
<rect class="d" x="24.7" y="256.3"/>
<rect class="d" x="23.6" y="241.6"/>
<rect class="d" x="24.3" y="242.9"/>
<rect class="d" x="20.9" y="263.9"/>
<rect class="d" x="22.5" y="265.2"/>
<rect class="d" x="27.0" y="268.0"/>
<rect class="d" x="21.6" y="271.4"/>
<rect class="d" x="23.3" y="271.6"/>
<rect class="d" x="20.9" y="274.1"/>
<rect class="d" x="22.9" y="277.9"/>
<rect class="d" x="20.6" y="279.5"/>
<rect class="d" x="22.3" y="280.2"/>
<rect class="d" x="23.9" y="280.9"/>
<rect class="d" x="20.9" y="283.3"/>
<rect class="d" x="21.6" y="285.6"/>
<rect class="d" x="20.9" y="288.3"/>
<rect class="d" x="20.2" y="291.5"/>
<rect class="d" x="21.6" y="292.4"/>
<rect class="d" x="22.5" y="294.2"/>
<rect class="d" x="20.9" y="303.7"/>
<rect class="d" x="27.8" y="210.8"/>
<rect class="d" x="28.0" y="210.6"/>
<rect class="d" x="28.0" y="211.4"/>
<rect class="d" x="27.5" y="209.2"/>
<rect class="d" x="27.8" y="208.7"/>
<rect class="d" x="27.4" y="210.2"/>
<rect class="d" x="28.7" y="209.2"/>
<rect class="d" x="28.1" y="205.3"/>
<rect class="d" x="28.6" y="207.2"/>
<rect class="d" x="26.8" y="206.5"/>
<rect class="d" x="27.3" y="205.8"/>
<rect class="d" x="27.8" y="210.6"/>
<rect class="d" x="28.1" y="207.5"/>
<rect class="d" x="27.5" y="210.4"/>
<rect class="d" x="25.6" y="211.9"/>
<rect class="d" x="24.6" y="214.0"/>
<rect class="d" x="25.5" y="213.6"/>
<rect class="d" x="24.6" y="212.2"/>
<rect class="d" x="25.0" y="210.8"/>
<rect class="d" x="25.8" y="212.2"/>
<rect class="d" x="26.2" y="213.5"/>
<rect class="d" x="24.0" y="212.3"/>
<rect class="d" x="21.4" y="219.1"/>
<rect class="d" x="23.1" y="215.2"/>
<rect class="d" x="23.5" y="217.4"/>
<rect class="d" x="23.2" y="218.0"/>
<rect class="d" x="21.0" y="217.4"/>
<rect class="d" x="22.0" y="214.3"/>
<rect class="d" x="20.9" y="214.4"/>
<rect class="d" x="23.4" y="217.0"/>
<rect class="d" x="21.1" y="216.2"/>
<rect class="d" x="21.2" y="215.9"/>
<rect class="d" x="21.7" y="216.9"/>
<rect class="d" x="22.0" y="220.1"/>
<rect class="d" x="20.6" y="216.8"/>
<rect class="d" x="21.3" y="220.0"/>
<rect class="d" x="21.6" y="215.4"/>
<rect class="d" x="23.3" y="215.3"/>
<rect class="d" x="22.4" y="218.3"/>
<rect class="d" x="23.5" y="216.5"/>
<rect class="d" x="21.9" y="236.8"/>
<rect class="d" x="20.6" y="256.3"/>
<rect class="d" x="22.5" y="259.0"/>
<rect class="d" x="20.7" y="253.4"/>
<rect class="d" x="20.6" y="223.6"/>
<rect class="d" x="22.1" y="248.4"/>
<rect class="d" x="21.8" y="261.6"/>
<rect class="d" x="21.3" y="247.3"/>
<rect class="d" x="22.3" y="241.1"/>
<rect class="d" x="21.4" y="257.2"/>
<rect class="d" x="21.2" y="249.8"/>
<rect class="d" x="20.9" y="250.9"/>
<rect class="d" x="22.3" y="234.6"/>
<rect class="d" x="22.1" y="261.9"/>
<rect class="d" x="21.7" y="225.1"/>
<rect class="d" x="21.6" y="257.9"/>
<rect class="d" x="21.8" y="228.3"/>
<rect class="d" x="21.9" y="235.0"/>
<rect class="d" x="22.5" y="226.5"/>
<rect class="d" x="22.3" y="232.7"/>
<rect class="d" x="21.9" y="249.4"/>
<rect class="d" x="20.7" y="232.6"/>
<rect class="d" x="22.0" y="247.1"/>
<rect class="d" x="21.4" y="238.1"/>
<rect class="d" x="21.7" y="256.0"/>
<rect class="d" x="20.6" y="248.1"/>
<rect class="d" x="21.3" y="248.1"/>
<rect class="d" x="20.5" y="243.9"/>
<rect class="d" x="21.4" y="225.3"/>
<rect class="d" x="20.6" y="235.5"/>
<rect class="d" x="21.6" y="240.3"/>
<rect class="d" x="21.9" y="247.1"/>
<rect class="d" x="22.0" y="257.9"/>
<rect class="d" x="22.4" y="226.3"/>
<rect class="d" x="22.0" y="226.8"/>
<rect class="d" x="22.3" y="262.2"/>
<rect class="d" x="21.8" y="235.1"/>
<rect class="d" x="21.8" y="244.9"/>
<rect class="d" x="22.3" y="228.2"/>
<rect class="d" x="21.8" y="239.6"/>
<rect class="d" x="20.9" y="237.9"/>
<rect class="d" x="21.7" y="235.4"/>
<rect class="d" x="22.4" y="249.9"/>
<rect class="d" x="22.7" y="259.4"/>
<rect class="d" x="21.4" y="257.9"/>
<rect class="d" x="21.4" y="235.9"/>
<rect class="d" x="22.0" y="227.6"/>
<rect class="d" x="20.7" y="260.2"/>
<rect class="d" x="21.0" y="244.1"/>
<rect class="d" x="21.5" y="244.4"/>
<rect class="d" x="22.4" y="256.7"/>
<rect class="d" x="20.9" y="222.9"/>
<rect class="d" x="21.6" y="245.6"/>
<rect class="d" x="22.0" y="253.3"/>
<rect class="d" x="22.6" y="239.0"/>
<rect class="d" x="21.4" y="230.0"/>
<rect class="d" x="22.1" y="222.5"/>
<rect class="d" x="21.0" y="241.6"/>
<rect class="d" x="20.7" y="227.0"/>
<rect class="d" x="21.4" y="217.7"/>
<rect class="d" x="21.5" y="216.9"/>
<rect class="d" x="22.1" y="214.0"/>
<rect class="d" x="21.4" y="215.5"/>
<rect class="d" x="21.9" y="215.3"/>
<rect class="d" x="21.0" y="217.8"/>
<rect class="d" x="20.4" y="214.2"/>
<rect class="d" x="20.7" y="217.8"/>
<rect class="d" x="21.5" y="216.3"/>
<rect class="d" x="20.5" y="216.9"/>
<rect class="d" x="20.7" y="216.6"/>
<rect class="d" x="21.9" y="217.2"/>
<rect class="d" x="22.2" y="218.5"/>
<path d="M130.3 180.2V305.0H212.4" fill="none" stroke="#c6c6c6" stroke-width="1.5"/>
<path d="M130.30 305.0v-1.3 M150.83 305.0v-1.3 M171.35 305.0v-1.3 M191.88 305.0v-1.3 M212.40 305.0v-1.3 M130.3 305.00h1.3 M130.3 293.44h1.3 M130.3 281.89h1.3 M130.3 270.33h1.3 M130.3 258.78h1.3 M130.3 247.22h1.3 M130.3 235.67h1.3 M130.3 224.11h1.3 M130.3 212.56h1.3 M130.3 201.00h1.3 M130.3 189.44h1.3" stroke="#666" stroke-width="0.8" fill="none"/>
<line x1="130.3" y1="209.0" x2="212.4" y2="180.2" stroke="#8f8fd6" stroke-width="1.0"/>
<rect x="129.9" y="188.3" width="3.9" height="17.7" fill="#00f" fill-opacity="0.75"/>
<rect class="d" x="140.5" y="188.8"/>
<rect class="d" x="138.3" y="189.7"/>
<rect class="d" x="137.5" y="191.0"/>
<rect class="d" x="147.4" y="192.3"/>
<rect class="d" x="148.3" y="193.4"/>
<rect class="d" x="137.5" y="194.0"/>
<rect class="d" x="138.3" y="198.8"/>
<rect class="d" x="135.3" y="201.4"/>
<rect class="d" x="135.7" y="204.4"/>
<rect class="d" x="150.0" y="206.1"/>
<rect class="d" x="132.3" y="207.8"/>
<rect class="d" x="149.9" y="205.8"/>
<rect class="d" x="188.0" y="206.6"/>
<rect class="d" x="149.4" y="193.5"/>
<rect class="d" x="133.6" y="213.4"/>
<rect class="d" x="137.0" y="213.1"/>
<rect class="d" x="137.8" y="216.2"/>
<rect class="d" x="134.7" y="218.0"/>
<rect class="d" x="136.7" y="219.9"/>
<rect class="d" x="133.6" y="223.4"/>
<rect class="d" x="136.7" y="231.1"/>
<rect class="d" x="132.7" y="232.7"/>
<rect class="d" x="131.6" y="234.2"/>
<rect class="d" x="132.1" y="236.2"/>
<rect class="d" x="133.1" y="238.1"/>
<rect class="d" x="133.9" y="238.8"/>
<rect class="d" x="135.4" y="248.6"/>
<rect class="d" x="130.8" y="244.2"/>
<rect class="d" x="130.0" y="241.9"/>
<rect class="d" x="130.5" y="246.6"/>
<rect class="d" x="130.0" y="250.4"/>
<rect class="d" x="130.5" y="256.3"/>
<rect class="d" x="130.5" y="256.4"/>
<rect class="d" x="132.7" y="258.3"/>
<rect class="d" x="131.6" y="260.6"/>
<rect class="d" x="134.2" y="262.1"/>
<rect class="d" x="130.0" y="265.7"/>
<rect class="d" x="132.4" y="265.7"/>
<rect class="d" x="131.1" y="268.8"/>
<rect class="d" x="132.1" y="273.4"/>
<rect class="d" x="130.0" y="276.0"/>
<rect class="d" x="133.1" y="276.8"/>
<rect class="d" x="130.8" y="279.1"/>
<rect class="d" x="130.0" y="282.2"/>
<rect class="d" x="130.8" y="285.3"/>
<rect class="d" x="130.0" y="288.4"/>
<rect class="d" x="132.1" y="290.7"/>
<rect class="d" x="133.1" y="292.2"/>
<rect class="d" x="130.5" y="303.8"/>
<rect class="d" x="130.9" y="192.0"/>
<rect class="d" x="129.9" y="203.3"/>
<rect class="d" x="130.8" y="188.3"/>
<rect class="d" x="130.5" y="196.6"/>
<rect class="d" x="132.0" y="193.3"/>
<rect class="d" x="130.3" y="189.4"/>
<rect class="d" x="132.3" y="193.3"/>
<rect class="d" x="130.7" y="204.1"/>
<rect class="d" x="132.0" y="200.7"/>
<rect class="d" x="132.0" y="188.9"/>
<rect class="d" x="132.1" y="204.2"/>
<rect class="d" x="132.7" y="189.8"/>
<rect class="d" x="131.6" y="202.8"/>
<rect class="d" x="132.1" y="194.4"/>
<rect class="d" x="130.9" y="194.8"/>
<rect class="d" x="131.4" y="194.9"/>
<rect class="d" x="131.7" y="198.7"/>
<rect class="d" x="131.9" y="195.7"/>
<rect class="d" x="132.6" y="197.1"/>
<rect class="d" x="131.4" y="204.4"/>
<rect class="d" x="132.2" y="197.8"/>
<rect class="d" x="131.4" y="204.3"/>
<rect class="d" x="131.0" y="191.0"/>
<rect class="d" x="130.9" y="189.6"/>
<rect class="d" x="132.3" y="203.8"/>
<rect class="d" x="130.1" y="189.3"/>
<rect class="d" x="131.3" y="200.4"/>
<rect class="d" x="131.5" y="190.6"/>
<rect class="d" x="132.4" y="194.6"/>
<rect class="d" x="130.0" y="195.7"/>
<rect class="d" x="131.1" y="189.6"/>
<rect class="d" x="131.0" y="192.3"/>
<rect class="d" x="130.8" y="194.9"/>
<rect class="d" x="134.1" y="194.7"/>
<rect class="d" x="135.9" y="192.0"/>
<rect class="d" x="135.3" y="189.5"/>
<rect class="d" x="135.1" y="198.8"/>
<rect class="d" x="134.6" y="188.7"/>
<rect class="d" x="134.4" y="197.0"/>
<rect class="d" x="135.5" y="190.6"/>
<rect class="d" x="134.3" y="189.9"/>
<rect class="d" x="135.9" y="191.4"/>
<rect class="d" x="136.5" y="202.3"/>
<rect class="d" x="134.4" y="200.9"/>
<rect class="d" x="133.7" y="196.8"/>
<rect class="d" x="136.0" y="197.0"/>
<rect class="d" x="134.0" y="199.8"/>
<rect class="d" x="135.5" y="192.6"/>
<rect class="d" x="134.0" y="202.0"/>
<rect class="d" x="133.6" y="200.3"/>
<rect class="d" x="134.1" y="201.1"/>
<rect class="d" x="135.9" y="192.5"/>
<rect class="d" x="134.6" y="191.5"/>
<rect class="d" x="135.5" y="201.2"/>
<rect class="d" x="135.0" y="203.7"/>
<rect class="d" x="136.2" y="201.8"/>
<rect class="d" x="134.1" y="203.3"/>
<rect class="d" x="134.9" y="190.6"/>
<rect class="d" x="136.0" y="196.1"/>
<rect class="d" x="135.9" y="202.4"/>
<rect class="d" x="135.1" y="190.1"/>
<rect class="d" x="134.4" y="191.6"/>
<rect class="d" x="136.5" y="191.2"/>
<rect class="d" x="136.1" y="201.6"/>
<rect class="d" x="135.5" y="194.9"/>
<rect class="d" x="133.6" y="194.3"/>
<rect class="d" x="134.2" y="189.8"/>
<rect class="d" x="135.5" y="191.6"/>
<rect class="d" x="135.0" y="191.5"/>
<rect class="d" x="135.0" y="203.2"/>
<rect class="d" x="135.2" y="196.7"/>
<rect class="d" x="136.3" y="189.9"/>
<rect class="d" x="134.9" y="199.1"/>
<rect class="d" x="135.2" y="195.9"/>
<rect class="d" x="135.1" y="189.4"/>
<rect class="d" x="135.7" y="199.9"/>
<rect class="d" x="133.6" y="201.2"/>
<rect class="d" x="134.7" y="196.8"/>
<rect class="d" x="135.8" y="202.7"/>
<rect class="d" x="134.0" y="195.0"/>
<rect class="d" x="135.1" y="195.9"/>
<rect class="d" x="136.2" y="195.2"/>
<rect class="d" x="134.0" y="193.2"/>
<rect class="d" x="134.5" y="191.6"/>
<rect class="d" x="133.7" y="189.1"/>
<rect class="d" x="136.2" y="201.8"/>
<rect class="d" x="134.9" y="203.6"/>
<rect class="d" x="135.6" y="190.3"/>
<rect class="d" x="134.0" y="190.0"/>
<rect class="d" x="135.8" y="199.2"/>
<rect class="d" x="130.1" y="209.0"/>
<rect class="d" x="132.8" y="215.5"/>
<rect class="d" x="130.6" y="217.8"/>
<rect class="d" x="130.0" y="208.5"/>
<rect class="d" x="130.2" y="208.8"/>
<rect class="d" x="130.7" y="217.4"/>
<rect class="d" x="131.2" y="216.1"/>
<rect class="d" x="132.4" y="217.4"/>
<rect class="d" x="133.2" y="213.3"/>
<rect class="d" x="133.1" y="219.6"/>
<rect class="d" x="131.6" y="207.3"/>
<rect class="d" x="130.9" y="213.0"/>
<rect class="d" x="131.8" y="214.0"/>
<rect class="d" x="132.9" y="219.9"/>
<rect class="d" x="130.0" y="216.1"/>
<rect class="d" x="130.3" y="215.8"/>
<rect class="d" x="132.9" y="208.4"/>
<rect class="d" x="131.5" y="211.9"/>
<rect class="d" x="133.1" y="216.0"/>
<rect class="d" x="132.6" y="212.2"/>
<rect class="d" x="131.3" y="213.4"/>
<rect class="d" x="133.2" y="209.8"/>
<rect class="d" x="130.0" y="220.3"/>
<rect class="d" x="132.7" y="218.2"/>
<rect class="d" x="132.9" y="214.8"/>
<rect class="d" x="131.7" y="220.2"/>
<rect class="d" x="132.4" y="211.2"/>
<rect class="d" x="130.4" y="215.4"/>
<rect class="d" x="132.3" y="214.1"/>
<rect class="d" x="131.2" y="211.6"/>
<rect class="d" x="130.5" y="218.9"/>
<rect class="d" x="132.5" y="212.8"/>
<rect class="d" x="132.3" y="218.7"/>
<rect class="d" x="131.3" y="208.6"/>
<rect class="d" x="132.7" y="218.7"/>
<rect class="d" x="131.5" y="214.6"/>
<rect class="d" x="131.6" y="218.4"/>
<rect class="d" x="132.1" y="214.5"/>
<rect class="d" x="132.2" y="214.2"/>
<rect class="d" x="131.8" y="214.9"/>
<rect class="d" x="132.2" y="208.4"/>
<rect class="d" x="130.7" y="213.5"/>
<rect class="d" x="130.8" y="208.0"/>
<rect class="d" x="130.6" y="213.2"/>
<rect class="d" x="130.4" y="222.7"/>
<rect class="d" x="131.9" y="223.3"/>
<rect class="d" x="131.3" y="233.6"/>
<rect class="d" x="131.4" y="247.5"/>
<rect class="d" x="131.5" y="233.6"/>
<rect class="d" x="130.3" y="248.3"/>
<rect class="d" x="131.9" y="233.8"/>
<rect class="d" x="130.9" y="255.6"/>
<rect class="d" x="130.5" y="224.0"/>
<rect class="d" x="130.9" y="223.8"/>
<rect class="d" x="131.3" y="241.6"/>
<rect class="d" x="130.2" y="254.7"/>
<rect class="d" x="131.4" y="243.5"/>
<rect class="d" x="130.8" y="237.9"/>
<rect class="d" x="130.7" y="232.4"/>
<rect class="d" x="131.8" y="238.6"/>
<rect class="d" x="131.5" y="223.9"/>
<rect class="d" x="132.0" y="235.2"/>
<rect class="d" x="131.5" y="247.6"/>
<rect class="d" x="130.7" y="235.9"/>
<rect class="d" x="130.9" y="226.5"/>
<rect class="d" x="131.8" y="244.8"/>
<rect class="d" x="130.4" y="243.7"/>
<rect class="d" x="130.3" y="247.6"/>
<rect class="d" x="131.6" y="250.1"/>
<rect class="d" x="131.3" y="245.3"/>
<rect class="d" x="131.9" y="245.7"/>
<rect class="d" x="131.8" y="236.9"/>
<rect class="d" x="130.2" y="237.4"/>
<rect class="d" x="131.5" y="256.0"/>
<rect class="d" x="132.2" y="235.1"/>
<rect class="d" x="130.0" y="252.4"/>
<rect class="d" x="132.1" y="240.5"/>
<rect class="d" x="131.3" y="255.0"/>
<rect class="d" x="130.9" y="222.1"/>
<rect class="d" x="131.6" y="224.2"/>
<rect class="d" x="131.8" y="249.2"/>
<rect class="d" x="132.1" y="236.0"/>
<rect class="d" x="130.9" y="231.5"/>
<rect class="d" x="131.0" y="222.2"/>
<rect class="d" x="131.6" y="253.9"/>
<rect class="d" x="130.8" y="230.0"/>
<rect class="d" x="131.1" y="236.2"/>
<path d="M239.7 180.2V305.0H322.0" fill="none" stroke="#c6c6c6" stroke-width="1.5"/>
<path d="M239.70 305.0v-1.3 M260.27 305.0v-1.3 M280.85 305.0v-1.3 M301.43 305.0v-1.3 M322.00 305.0v-1.3 M239.7 305.00h1.3 M239.7 289.87h1.3 M239.7 274.75h1.3 M239.7 259.62h1.3 M239.7 244.49h1.3 M239.7 229.36h1.3 M239.7 214.24h1.3 M239.7 199.11h1.3 M239.7 183.98h1.3" stroke="#666" stroke-width="0.8" fill="none"/>
<line x1="240.0" y1="247.1" x2="322.2" y2="179.0" stroke="#8f8fd6" stroke-width="1.0"/>
<rect x="239.4" y="228.8" width="19.1" height="2.0" fill="#00f" fill-opacity="0.8"/>
<rect class="d" x="266.0" y="229.2"/>
<rect class="d" x="274.6" y="228.4"/>
<rect class="d" x="259.8" y="231.7"/>
<rect class="d" x="264.1" y="233.5"/>
<rect class="d" x="261.6" y="232.9"/>
<rect class="d" x="257.9" y="236.0"/>
<rect class="d" x="259.2" y="239.7"/>
<rect class="d" x="254.9" y="241.0"/>
<rect class="d" x="261.0" y="245.6"/>
<rect class="d" x="249.9" y="249.6"/>
<rect class="d" x="251.8" y="252.1"/>
<rect class="d" x="247.4" y="252.1"/>
<rect class="d" x="251.1" y="253.9"/>
<rect class="d" x="243.1" y="254.5"/>
<rect class="d" x="245.0" y="257.0"/>
<rect class="d" x="248.1" y="257.6"/>
<rect class="d" x="257.3" y="259.5"/>
<rect class="d" x="240.0" y="258.2"/>
<rect class="d" x="241.9" y="258.9"/>
<rect class="d" x="256.7" y="259.4"/>
<rect class="d" x="248.1" y="267.6"/>
<rect class="d" x="244.8" y="274.1"/>
<rect class="d" x="239.4" y="274.1"/>
<rect class="d" x="242.7" y="276.2"/>
<rect class="d" x="245.9" y="275.8"/>
<rect class="d" x="240.5" y="279.5"/>
<rect class="d" x="243.3" y="279.5"/>
<rect class="d" x="248.1" y="281.0"/>
<rect class="d" x="241.1" y="284.4"/>
<rect class="d" x="244.2" y="287.0"/>
<rect class="d" x="241.6" y="289.6"/>
<rect class="d" x="239.9" y="293.5"/>
<rect class="d" x="245.9" y="295.7"/>
<rect class="d" x="244.8" y="303.9"/>
<rect class="d" x="242.7" y="269.8"/>
<rect class="d" x="239.4" y="267.6"/>
<rect class="d" x="241.1" y="263.3"/>
<rect class="d" x="244.8" y="262.2"/>
<rect class="d" x="248.1" y="256.8"/>
<rect class="d" x="239.9" y="259.0"/>
<rect class="d" x="242.7" y="255.7"/>
<rect class="d" x="240.5" y="252.5"/>
<rect class="d" x="244.8" y="252.0"/>
<rect class="d" x="250.2" y="251.4"/>
<rect class="d" x="251.3" y="253.6"/>
<rect class="d" x="241.6" y="249.2"/>
<rect class="d" x="245.9" y="247.1"/>
<rect class="d" x="248.5" y="244.9"/>
<rect class="d" x="259.9" y="229.4"/>
<rect class="d" x="262.4" y="232.2"/>
<rect class="d" x="257.5" y="232.8"/>
<rect class="d" x="259.0" y="235.9"/>
<rect class="d" x="255.6" y="237.4"/>
<rect class="d" x="259.3" y="239.6"/>
<rect class="d" x="255.0" y="241.1"/>
<rect class="d" x="266.1" y="228.8"/>
<rect class="d" x="275.2" y="228.4"/>
<rect class="d" x="285.2" y="231.4"/>
<rect class="d" x="290.2" y="230.0"/>
<rect class="d" x="264.1" y="233.4"/>
<rect class="d" x="252.9" y="236.7"/>
<rect class="d" x="248.8" y="237.0"/>
<rect class="d" x="251.1" y="236.7"/>
<rect class="d" x="243.0" y="237.3"/>
<rect class="d" x="249.5" y="235.9"/>
<rect class="d" x="246.5" y="234.9"/>
<rect class="d" x="253.7" y="234.0"/>
<rect class="d" x="246.3" y="234.6"/>
<rect class="d" x="254.0" y="237.1"/>
<rect class="d" x="241.4" y="237.1"/>
<rect class="d" x="249.4" y="237.0"/>
<rect class="d" x="254.3" y="236.2"/>
<rect class="d" x="244.1" y="234.7"/>
<rect class="d" x="239.9" y="235.9"/>
<rect class="d" x="240.9" y="237.3"/>
<rect class="d" x="240.3" y="236.8"/>
<rect class="d" x="241.4" y="235.3"/>
<rect class="d" x="251.5" y="234.8"/>
<rect class="d" x="240.0" y="234.8"/>
<rect class="d" x="253.2" y="237.0"/>
<rect class="d" x="242.4" y="234.6"/>
<rect class="d" x="247.6" y="235.6"/>
<rect class="d" x="249.0" y="237.1"/>
<rect class="d" x="251.8" y="235.6"/>
<rect class="d" x="241.3" y="234.1"/>
<rect class="d" x="244.5" y="233.9"/>
<rect class="d" x="247.7" y="236.1"/>
<rect class="d" x="243.4" y="236.1"/>
<rect class="d" x="245.6" y="234.7"/>
<rect class="d" x="253.2" y="234.9"/>
<rect class="d" x="241.0" y="236.5"/>
<rect class="d" x="250.3" y="234.1"/>
<rect class="d" x="242.3" y="236.0"/>
<rect class="d" x="243.4" y="235.2"/>
<rect class="d" x="240.4" y="234.3"/>
<rect class="d" x="246.7" y="235.3"/>
<rect class="d" x="245.9" y="240.2"/>
<rect class="d" x="248.1" y="240.5"/>
<rect class="d" x="248.2" y="243.5"/>
<rect class="d" x="251.0" y="239.1"/>
<rect class="d" x="246.9" y="240.5"/>
<rect class="d" x="245.6" y="240.4"/>
<rect class="d" x="244.1" y="241.8"/>
<rect class="d" x="248.9" y="239.7"/>
<rect class="d" x="239.8" y="242.9"/>
<rect class="d" x="242.7" y="240.7"/>
<rect class="d" x="249.1" y="242.9"/>
<rect class="d" x="245.5" y="241.7"/>
<rect class="d" x="240.2" y="241.1"/>
<rect class="d" x="248.7" y="243.0"/>
<rect class="d" x="242.0" y="242.7"/>
<rect class="d" x="241.3" y="239.5"/>
<rect class="d" x="246.2" y="243.8"/>
<rect class="d" x="247.1" y="239.1"/>
<rect class="d" x="247.8" y="242.1"/>
<rect class="d" x="246.4" y="243.7"/>
<rect class="d" x="242.2" y="241.7"/>
<rect class="d" x="244.7" y="244.0"/>
<rect class="d" x="241.2" y="240.3"/>
<rect class="d" x="244.2" y="239.9"/>
<rect class="d" x="253.0" y="241.8"/>
<rect class="d" x="239.7" y="240.3"/>
<rect class="d" x="241.1" y="240.2"/>
<rect class="d" x="242.1" y="242.9"/>
<rect class="d" x="240.1" y="240.1"/>
<rect class="d" x="240.3" y="244.1"/>
<rect class="d" x="244.5" y="239.7"/>
<rect class="d" x="240.3" y="243.3"/>
<rect class="d" x="250.9" y="243.1"/>
<rect class="d" x="249.3" y="249.9"/>
<rect class="d" x="241.6" y="249.7"/>
<rect class="d" x="240.7" y="248.3"/>
<rect class="d" x="244.2" y="246.5"/>
<rect class="d" x="244.3" y="257.7"/>
<rect class="d" x="242.7" y="250.1"/>
<rect class="d" x="242.3" y="257.3"/>
<rect class="d" x="245.2" y="255.7"/>
<rect class="d" x="241.3" y="258.1"/>
<rect class="d" x="248.3" y="255.2"/>
<rect class="d" x="246.5" y="257.5"/>
<rect class="d" x="241.6" y="255.2"/>
<rect class="d" x="245.0" y="247.5"/>
<rect class="d" x="239.8" y="250.3"/>
<rect class="d" x="253.2" y="229.4"/>
<rect class="d" x="243.5" y="228.6"/>
<rect class="d" x="255.2" y="229.0"/>
<rect class="d" x="257.1" y="229.1"/>
<rect class="d" x="251.5" y="229.5"/>
<rect class="d" x="239.8" y="229.1"/>
<rect class="d" x="242.7" y="229.4"/>
<rect class="d" x="239.8" y="228.8"/>
<rect class="d" x="251.7" y="229.7"/>
<rect class="d" x="248.7" y="228.8"/>
<rect class="d" x="248.3" y="228.9"/>
<rect class="d" x="253.5" y="229.4"/>
<rect class="d" x="251.1" y="228.9"/>
<rect class="d" x="247.1" y="229.4"/>
<rect class="d" x="255.9" y="229.7"/>
<rect class="d" x="248.9" y="229.4"/>
<rect class="d" x="255.9" y="228.9"/>
<rect class="d" x="253.5" y="229.6"/>
<rect class="d" x="241.8" y="229.1"/>
<rect class="d" x="240.2" y="229.7"/>
<rect class="d" x="246.0" y="229.2"/>
<rect class="d" x="247.8" y="229.6"/>
<rect class="d" x="247.7" y="229.7"/>
<rect class="d" x="241.1" y="228.8"/>
<rect class="d" x="246.0" y="228.6"/>
<rect class="d" x="243.1" y="229.4"/>
<rect class="d" x="241.5" y="229.2"/>
<rect class="d" x="255.9" y="229.7"/>
<rect class="d" x="259.0" y="229.2"/>
<rect class="d" x="242.7" y="228.8"/>
<rect class="d" x="255.3" y="228.6"/>
<rect class="d" x="242.9" y="229.0"/>
<rect class="d" x="246.8" y="232.0"/>
<rect class="d" x="243.5" y="232.6"/>
<rect class="d" x="247.8" y="231.0"/>
<rect class="d" x="239.6" y="231.8"/>
<rect class="d" x="243.8" y="232.6"/>
<rect class="d" x="249.5" y="231.7"/>
<rect class="d" x="240.5" y="231.8"/>
<rect class="d" x="242.1" y="231.5"/>
<rect class="d" x="244.7" y="232.4"/>
<rect class="d" x="244.9" y="232.0"/>
<rect class="d" x="244.8" y="231.8"/>
<rect class="d" x="241.9" y="232.4"/>
<rect class="d" x="248.6" y="232.6"/>
<rect class="d" x="245.3" y="231.2"/>
<rect class="d" x="242.4" y="232.7"/>
<rect class="d" x="245.9" y="232.8"/>
<rect class="d" x="242.9" y="231.8"/>
<rect class="d" x="244.5" y="232.3"/>
<rect class="d" x="248.0" y="232.3"/>
<rect class="d" x="249.3" y="231.3"/>
<rect class="d" x="254.1" y="232.9"/>
<rect class="d" x="245.3" y="232.3"/>
<rect class="d" x="244.6" y="232.0"/>
<rect class="d" x="241.8" y="232.5"/>
<rect class="d" x="248.0" y="231.1"/>
<rect class="d" x="249.3" y="232.0"/>
<rect class="d" x="248.2" y="232.2"/>
<rect class="d" x="248.1" y="231.2"/>
<rect class="d" x="251.3" y="231.3"/>
<rect class="d" x="248.1" y="231.5"/>
<rect class="d" x="251.2" y="231.6"/>
<rect class="d" x="250.9" y="232.9"/>
<rect class="d" x="247.6" y="231.8"/>
<rect class="d" x="252.0" y="232.2"/>
<rect class="d" x="239.8" y="232.7"/>
<rect class="d" x="239.9" y="232.6"/>
<rect class="d" x="246.3" y="232.2"/>
<rect class="d" x="246.0" y="231.3"/>
<rect class="d" x="243.8" y="232.2"/>
<rect class="d" x="240.7" y="231.9"/>
<rect class="d" x="241.1" y="231.9"/>
<rect class="d" x="245.3" y="231.8"/>
<rect class="d" x="250.2" y="231.3"/>
<rect class="d" x="244.8" y="232.4"/>
<path d="M349.0 180.2V305.0H431.5" fill="none" stroke="#c6c6c6" stroke-width="1.5"/>
<path d="M349.00 305.0v-1.3 M369.62 305.0v-1.3 M390.25 305.0v-1.3 M410.88 305.0v-1.3 M431.50 305.0v-1.3 M349.0 305.00h1.3 M349.0 292.52h1.3 M349.0 280.04h1.3 M349.0 267.56h1.3 M349.0 255.08h1.3 M349.0 242.60h1.3 M349.0 230.12h1.3 M349.0 217.64h1.3 M349.0 205.16h1.3 M349.0 192.68h1.3 M349.0 180.20h1.3" stroke="#666" stroke-width="0.8" fill="none"/>
<line x1="349.0" y1="203.4" x2="431.5" y2="195.3" stroke="#8f8fd6" stroke-width="1.0"/>
<rect class="d" x="356.5" y="187.1"/>
<rect class="d" x="354.7" y="191.1"/>
<rect class="d" x="356.1" y="191.9"/>
<rect class="d" x="358.0" y="192.2"/>
<rect class="d" x="360.2" y="191.5"/>
<rect class="d" x="361.3" y="191.9"/>
<rect class="d" x="362.4" y="192.2"/>
<rect class="d" x="362.8" y="188.2"/>
<rect class="d" x="359.8" y="188.5"/>
<rect class="d" x="366.9" y="188.5"/>
<rect class="d" x="368.7" y="191.1"/>
<rect class="d" x="371.0" y="193.0"/>
<rect class="d" x="373.5" y="191.5"/>
<rect class="d" x="376.5" y="189.6"/>
<rect class="d" x="362.8" y="195.2"/>
<rect class="d" x="359.5" y="196.7"/>
<rect class="d" x="354.3" y="197.8"/>
<rect class="d" x="358.7" y="198.5"/>
<rect class="d" x="365.4" y="197.8"/>
<rect class="d" x="374.3" y="195.2"/>
<rect class="d" x="375.0" y="197.4"/>
<rect class="d" x="379.1" y="179.5"/>
<rect class="d" x="381.2" y="179.8"/>
<rect class="d" x="383.2" y="179.3"/>
<rect class="d" x="384.7" y="179.8"/>
<rect class="d" x="386.8" y="179.5"/>
<rect class="d" x="388.3" y="180.1"/>
<rect class="d" x="389.3" y="179.8"/>
<rect class="d" x="383.7" y="182.3"/>
<rect class="d" x="392.4" y="181.1"/>
<rect class="d" x="392.4" y="182.3"/>
<rect class="d" x="395.9" y="181.5"/>
<rect class="d" x="404.1" y="181.5"/>
<rect class="d" x="413.3" y="179.3"/>
<rect class="d" x="378.1" y="184.4"/>
<rect class="d" x="381.2" y="184.6"/>
<rect class="d" x="384.7" y="184.9"/>
<rect class="d" x="388.3" y="184.2"/>
<rect class="d" x="389.8" y="184.4"/>
<rect class="d" x="391.4" y="184.6"/>
<rect class="d" x="395.4" y="185.6"/>
<rect class="d" x="398.0" y="186.6"/>
<rect class="d" x="399.0" y="186.4"/>
<rect class="d" x="401.0" y="185.2"/>
<rect class="d" x="404.1" y="185.4"/>
<rect class="d" x="377.6" y="188.9"/>
<rect class="d" x="382.2" y="187.9"/>
<rect class="d" x="385.8" y="188.2"/>
<rect class="d" x="386.5" y="188.6"/>
<rect class="d" x="389.8" y="189.7"/>
<rect class="d" x="378.6" y="191.0"/>
<rect class="d" x="383.2" y="191.3"/>
<rect class="d" x="386.3" y="191.0"/>
<rect class="d" x="396.4" y="191.0"/>
<rect class="d" x="379.1" y="193.5"/>
<rect class="d" x="383.7" y="193.5"/>
<rect class="d" x="398.0" y="193.5"/>
<rect class="d" x="384.7" y="196.1"/>
<rect class="d" x="387.3" y="197.1"/>
<rect class="d" x="392.4" y="199.1"/>
<rect class="d" x="402.1" y="197.1"/>
<rect class="d" x="404.6" y="196.8"/>
<rect class="d" x="425.8" y="184.4"/>
<rect class="d" x="428.8" y="183.3"/>
<rect class="d" x="354.3" y="197.9"/>
<rect class="d" x="355.7" y="199.3"/>
<rect class="d" x="358.6" y="198.3"/>
<rect class="d" x="361.4" y="199.3"/>
<rect class="d" x="363.5" y="200.0"/>
<rect class="d" x="365.7" y="198.6"/>
<rect class="d" x="369.2" y="200.3"/>
<rect class="d" x="373.5" y="198.6"/>
<rect class="d" x="374.9" y="197.5"/>
<rect class="d" x="356.4" y="202.9"/>
<rect class="d" x="359.3" y="203.6"/>
<rect class="d" x="361.4" y="204.0"/>
<rect class="d" x="366.4" y="202.6"/>
<rect class="d" x="372.8" y="202.2"/>
<rect class="d" x="374.6" y="203.2"/>
<rect class="d" x="376.3" y="200.7"/>
<rect class="d" x="367.8" y="206.4"/>
<rect class="d" x="359.3" y="207.4"/>
<rect class="d" x="360.4" y="208.5"/>
<rect class="d" x="376.0" y="207.4"/>
<rect class="d" x="378.4" y="207.4"/>
<rect class="d" x="355.7" y="209.7"/>
<rect class="d" x="358.6" y="210.7"/>
<rect class="d" x="362.8" y="210.7"/>
<rect class="d" x="363.3" y="211.7"/>
<rect class="d" x="369.9" y="211.1"/>
<rect class="d" x="375.6" y="210.2"/>
<rect class="d" x="376.6" y="210.7"/>
<rect class="d" x="355.7" y="212.5"/>
<rect class="d" x="357.9" y="212.1"/>
<rect class="d" x="384.8" y="213.5"/>
<rect class="d" x="356.2" y="215.4"/>
<rect class="d" x="362.1" y="215.9"/>
<rect class="d" x="359.3" y="218.2"/>
<rect class="d" x="369.9" y="218.5"/>
<rect class="d" x="366.4" y="219.6"/>
<rect class="d" x="360.0" y="221.6"/>
<rect class="d" x="364.2" y="221.3"/>
<rect class="d" x="358.6" y="223.4"/>
<rect class="d" x="365.0" y="225.6"/>
<rect class="d" x="368.5" y="225.6"/>
<rect class="d" x="369.2" y="225.6"/>
<rect class="d" x="375.6" y="226.7"/>
<rect class="d" x="372.1" y="229.1"/>
<rect class="d" x="362.8" y="229.8"/>
<rect class="d" x="365.7" y="230.5"/>
<rect class="d" x="374.2" y="231.2"/>
<rect class="d" x="379.9" y="231.5"/>
<rect class="d" x="361.8" y="232.9"/>
<rect class="d" x="365.2" y="232.7"/>
<rect class="d" x="377.0" y="233.4"/>
<rect class="d" x="378.0" y="234.4"/>
<rect class="d" x="388.4" y="235.5"/>
<rect class="d" x="370.6" y="238.3"/>
<rect class="d" x="369.9" y="240.0"/>
<rect class="d" x="371.3" y="241.5"/>
<rect class="d" x="383.7" y="239.8"/>
<rect class="d" x="376.3" y="242.3"/>
<rect class="d" x="392.1" y="199.3"/>
<rect class="d" x="404.1" y="206.4"/>
<rect class="d" x="416.2" y="206.4"/>
<rect class="d" x="409.1" y="214.2"/>
<rect class="d" x="393.1" y="228.7"/>
<rect class="d" x="389.7" y="235.3"/>
<rect class="d" x="370.8" y="241.6"/>
<rect class="d" x="372.8" y="246.1"/>
<rect class="d" x="376.3" y="244.2"/>
<rect class="d" x="380.3" y="243.6"/>
<rect class="d" x="367.2" y="248.1"/>
<rect class="d" x="360.5" y="252.7"/>
<rect class="d" x="374.3" y="257.4"/>
<rect class="d" x="380.3" y="259.0"/>
<rect class="d" x="371.2" y="262.9"/>
<rect class="d" x="392.1" y="262.9"/>
<rect class="d" x="365.5" y="265.9"/>
<rect class="d" x="369.2" y="266.9"/>
<rect class="d" x="388.6" y="271.2"/>
<rect class="d" x="354.6" y="273.8"/>
<rect class="d" x="357.4" y="277.2"/>
<rect class="d" x="365.5" y="274.4"/>
<rect class="d" x="375.3" y="275.2"/>
<rect class="d" x="382.6" y="276.8"/>
<rect class="d" x="369.2" y="281.1"/>
<rect class="d" x="377.3" y="284.3"/>
<rect class="d" x="376.3" y="288.2"/>
<rect class="d" x="371.8" y="290.0"/>
<rect class="d" x="364.5" y="291.8"/>
<rect class="d" x="366.8" y="304.0"/>
<rect class="d" x="398.2" y="254.6"/>
<rect class="d" x="410.7" y="255.3"/>
<rect class="d" x="392.3" y="262.8"/>
<rect class="d" x="389.5" y="271.5"/>
<rect class="d" x="365.6" y="180.5"/>
<rect class="d" x="362.4" y="180.2"/>
<rect class="d" x="372.9" y="179.4"/>
<rect class="d" x="368.1" y="180.4"/>
<rect class="d" x="371.9" y="180.1"/>
<rect class="d" x="358.3" y="179.7"/>
<rect class="d" x="356.5" y="180.3"/>
<rect class="d" x="362.2" y="179.6"/>
<rect class="d" x="358.9" y="179.4"/>
<rect class="d" x="358.9" y="179.4"/>
<rect class="d" x="360.4" y="179.8"/>
<rect class="d" x="371.8" y="179.5"/>
<rect class="d" x="360.3" y="179.6"/>
<rect class="d" x="360.4" y="180.4"/>
<rect class="d" x="364.2" y="179.9"/>
<rect class="d" x="362.4" y="180.5"/>
<rect class="d" x="364.2" y="179.9"/>
<rect class="d" x="366.4" y="180.2"/>
<rect class="d" x="368.1" y="180.5"/>
<rect class="d" x="366.6" y="179.8"/>
<rect class="d" x="362.7" y="180.0"/>
<rect class="d" x="360.6" y="179.5"/>
<rect class="d" x="357.4" y="179.9"/>
<rect class="d" x="362.0" y="180.3"/>
<rect class="d" x="365.0" y="179.9"/>
<rect class="d" x="365.9" y="180.5"/>
<rect class="d" x="372.2" y="180.2"/>
<rect class="d" x="358.1" y="180.3"/>
<rect class="d" x="361.0" y="179.4"/>
<rect class="d" x="357.2" y="179.5"/>
<rect class="d" x="364.0" y="180.1"/>
<rect class="d" x="360.7" y="180.5"/>
<rect class="d" x="365.6" y="180.2"/>
<rect class="d" x="359.3" y="180.3"/>
<rect class="d" x="361.9" y="179.8"/>
<rect class="d" x="356.7" y="180.1"/>
<rect class="d" x="368.7" y="180.0"/>
<rect class="d" x="358.9" y="179.8"/>
<rect class="d" x="360.0" y="180.4"/>
<rect class="d" x="362.2" y="180.5"/>
<rect class="d" x="372.7" y="184.5"/>
<rect class="d" x="369.5" y="182.9"/>
<rect class="d" x="372.0" y="185.4"/>
<rect class="d" x="364.5" y="184.5"/>
<rect class="d" x="362.4" y="184.7"/>
<rect class="d" x="362.6" y="184.4"/>
<rect class="d" x="374.3" y="183.4"/>
<rect class="d" x="357.7" y="184.1"/>
<rect class="d" x="360.9" y="183.5"/>
<rect class="d" x="361.6" y="182.8"/>
<rect class="d" x="371.8" y="183.6"/>
<rect class="d" x="360.7" y="182.1"/>
<rect class="d" x="376.4" y="183.8"/>
<rect class="d" x="371.8" y="184.7"/>
<rect class="d" x="377.3" y="182.5"/>
<rect class="d" x="359.3" y="184.4"/>
<rect class="d" x="374.2" y="185.2"/>
<rect class="d" x="374.2" y="184.7"/>
<rect class="d" x="369.9" y="183.2"/>
<rect class="d" x="376.1" y="184.3"/>
<rect class="d" x="363.4" y="182.4"/>
<rect class="d" x="376.9" y="182.6"/>
<rect class="d" x="363.1" y="185.3"/>
<rect class="d" x="370.0" y="184.0"/>
<rect class="d" x="366.7" y="183.1"/>
<rect class="d" x="373.6" y="182.2"/>
<rect class="d" x="365.9" y="185.4"/>
<rect class="d" x="359.6" y="183.4"/>
<rect class="d" x="368.0" y="183.0"/>
<rect class="d" x="358.1" y="182.5"/>
<rect class="d" x="358.4" y="185.0"/>
<rect class="d" x="363.7" y="183.7"/>
<rect class="d" x="373.5" y="182.6"/>
<rect class="d" x="362.9" y="183.0"/>
<rect class="d" x="357.7" y="191.6"/>
<rect class="d" x="357.9" y="191.4"/>
<rect class="d" x="358.9" y="189.0"/>
<rect class="d" x="375.6" y="190.1"/>
<rect class="d" x="375.6" y="187.3"/>
<rect class="d" x="370.1" y="190.6"/>
<rect class="d" x="360.2" y="189.8"/>
<rect class="d" x="369.1" y="188.3"/>
<rect class="d" x="374.0" y="187.1"/>
<rect class="d" x="359.5" y="188.4"/>
<rect class="d" x="361.6" y="189.2"/>
<rect class="d" x="365.4" y="187.9"/>
<rect class="d" x="357.8" y="188.1"/>
<rect class="d" x="356.1" y="189.6"/>
<rect class="d" x="369.4" y="189.4"/>
<rect class="d" x="373.3" y="190.2"/>
<rect class="d" x="364.4" y="187.8"/>
<rect class="d" x="370.6" y="190.6"/>
<rect class="d" x="355.6" y="189.3"/>
<path d="M458.5 180.2V305.0H540.5" fill="none" stroke="#c6c6c6" stroke-width="1.5"/>
<path d="M458.50 305.0v-1.3 M479.00 305.0v-1.3 M499.50 305.0v-1.3 M520.00 305.0v-1.3 M540.50 305.0v-1.3 M458.5 305.00h1.3 M458.5 292.52h1.3 M458.5 280.04h1.3 M458.5 267.56h1.3 M458.5 255.08h1.3 M458.5 242.60h1.3 M458.5 230.12h1.3 M458.5 217.64h1.3 M458.5 205.16h1.3 M458.5 192.68h1.3 M458.5 180.20h1.3" stroke="#666" stroke-width="0.8" fill="none"/>
<line x1="458.5" y1="202.2" x2="541.0" y2="190.2" stroke="#8f8fd6" stroke-width="1.0"/>
<rect x="457.8" y="179.8" width="5.7" height="6.7" fill="#00f" fill-opacity="0.7"/>
<rect class="d" x="470.2" y="181.2"/>
<rect class="d" x="473.7" y="181.7"/>
<rect class="d" x="478.0" y="179.5"/>
<rect class="d" x="478.0" y="181.2"/>
<rect class="d" x="481.0" y="183.4"/>
<rect class="d" x="482.3" y="183.8"/>
<rect class="d" x="472.0" y="183.8"/>
<rect class="d" x="474.5" y="184.3"/>
<rect class="d" x="477.1" y="184.7"/>
<rect class="d" x="468.1" y="184.7"/>
<rect class="d" x="468.9" y="186.0"/>
<rect class="d" x="474.5" y="186.9"/>
<rect class="d" x="468.1" y="188.6"/>
<rect class="d" x="480.2" y="189.0"/>
<rect class="d" x="477.1" y="191.2"/>
<rect class="d" x="466.3" y="191.2"/>
<rect class="d" x="469.4" y="192.1"/>
<rect class="d" x="470.2" y="192.1"/>
<rect class="d" x="481.5" y="193.4"/>
<rect class="d" x="463.3" y="195.9"/>
<rect class="d" x="467.6" y="195.9"/>
<rect class="d" x="471.1" y="196.4"/>
<rect class="d" x="466.3" y="198.5"/>
<rect class="d" x="475.4" y="200.3"/>
<rect class="d" x="462.0" y="201.1"/>
<rect class="d" x="465.9" y="202.7"/>
<rect class="d" x="486.0" y="179.5"/>
<rect class="d" x="490.7" y="179.1"/>
<rect class="d" x="495.3" y="179.1"/>
<rect class="d" x="504.6" y="179.8"/>
<rect class="d" x="503.8" y="182.6"/>
<rect class="d" x="505.3" y="181.7"/>
<rect class="d" x="510.7" y="181.4"/>
<rect class="d" x="480.6" y="183.7"/>
<rect class="d" x="483.0" y="184.2"/>
<rect class="d" x="506.1" y="186.3"/>
<rect class="d" x="508.1" y="185.2"/>
<rect class="d" x="485.3" y="187.9"/>
<rect class="d" x="479.9" y="189.4"/>
<rect class="d" x="485.3" y="190.9"/>
<rect class="d" x="487.6" y="189.9"/>
<rect class="d" x="500.7" y="190.6"/>
<rect class="d" x="508.7" y="191.1"/>
<rect class="d" x="481.4" y="193.4"/>
<rect class="d" x="484.5" y="193.7"/>
<rect class="d" x="492.2" y="196.5"/>
<rect class="d" x="499.5" y="207.6"/>
<rect class="d" x="479.4" y="218.7"/>
<rect class="d" x="475.3" y="200.0"/>
<rect class="d" x="465.3" y="202.5"/>
<rect class="d" x="469.4" y="204.2"/>
<rect class="d" x="468.6" y="206.7"/>
<rect class="d" x="477.4" y="206.2"/>
<rect class="d" x="459.4" y="207.5"/>
<rect class="d" x="461.1" y="209.2"/>
<rect class="d" x="460.3" y="210.9"/>
<rect class="d" x="463.6" y="210.0"/>
<rect class="d" x="464.4" y="210.9"/>
<rect class="d" x="458.6" y="211.7"/>
<rect class="d" x="471.1" y="214.2"/>
<rect class="d" x="461.9" y="215.0"/>
<rect class="d" x="460.3" y="215.9"/>
<rect class="d" x="459.1" y="217.2"/>
<rect class="d" x="479.1" y="218.4"/>
<rect class="d" x="461.9" y="220.0"/>
<rect class="d" x="460.3" y="221.7"/>
<rect class="d" x="459.1" y="223.4"/>
<rect class="d" x="463.6" y="225.5"/>
<rect class="d" x="464.4" y="226.2"/>
<rect class="d" x="466.1" y="228.4"/>
<rect class="d" x="465.3" y="229.2"/>
<rect class="d" x="467.8" y="230.9"/>
<rect class="d" x="458.6" y="230.0"/>
<rect class="d" x="459.4" y="232.5"/>
<rect class="d" x="461.1" y="235.0"/>
<rect class="d" x="463.6" y="233.4"/>
<rect class="d" x="463.6" y="238.4"/>
<rect class="d" x="460.3" y="240.0"/>
<rect class="d" x="460.3" y="241.7"/>
<rect class="d" x="462.8" y="243.4"/>
<rect class="d" x="458.6" y="245.9"/>
<rect class="d" x="460.3" y="248.4"/>
<rect class="d" x="461.9" y="252.5"/>
<rect class="d" x="458.6" y="201.7"/>
<rect class="d" x="458.6" y="204.2"/>
<rect class="d" x="461.1" y="200.0"/>
<rect class="d" x="461.8" y="252.6"/>
<rect class="d" x="458.9" y="254.7"/>
<rect class="d" x="460.1" y="254.3"/>
<rect class="d" x="461.1" y="257.8"/>
<rect class="d" x="459.4" y="262.9"/>
<rect class="d" x="460.6" y="266.7"/>
<rect class="d" x="463.5" y="265.9"/>
<rect class="d" x="463.2" y="271.6"/>
<rect class="d" x="458.4" y="273.7"/>
<rect class="d" x="461.8" y="274.5"/>
<rect class="d" x="460.6" y="276.8"/>
<rect class="d" x="466.3" y="276.8"/>
<rect class="d" x="461.8" y="280.9"/>
<rect class="d" x="462.3" y="284.0"/>
<rect class="d" x="460.6" y="287.8"/>
<rect class="d" x="463.5" y="290.1"/>
<rect class="d" x="458.4" y="291.8"/>
<rect class="d" x="462.8" y="303.9"/>
<rect class="d" x="504.6" y="234.2"/>
<rect class="d" x="496.1" y="244.0"/>
<rect class="d" x="489.9" y="258.7"/>
<rect class="d" x="498.1" y="262.9"/>
<rect class="d" x="458.6" y="182.5"/>
<rect class="d" x="458.1" y="182.7"/>
<rect class="d" x="461.8" y="184.7"/>
<rect class="d" x="460.0" y="184.4"/>
<rect class="d" x="461.3" y="181.0"/>
<rect class="d" x="458.2" y="180.9"/>
<rect class="d" x="460.4" y="183.6"/>
<rect class="d" x="458.5" y="184.0"/>
<rect class="d" x="460.3" y="182.4"/>
<rect class="d" x="460.0" y="180.6"/>
<rect class="d" x="460.4" y="185.2"/>
<rect class="d" x="458.4" y="183.7"/>
<rect class="d" x="459.8" y="184.2"/>
<rect class="d" x="459.7" y="184.2"/>
<rect class="d" x="459.8" y="181.5"/>
<rect class="d" x="459.0" y="182.1"/>
<rect class="d" x="466.9" y="181.5"/>
<rect class="d" x="465.4" y="181.2"/>
<rect class="d" x="464.6" y="183.7"/>
<rect class="d" x="464.4" y="182.4"/>
<rect class="d" x="466.2" y="181.4"/>
<rect class="d" x="466.5" y="183.3"/>
<rect class="d" x="466.2" y="180.0"/>
<rect class="d" x="466.4" y="183.7"/>
<rect class="d" x="466.9" y="181.9"/>
<rect class="d" x="465.0" y="180.8"/>
<rect class="d" x="466.3" y="183.7"/>
<rect class="d" x="464.3" y="182.3"/>
<rect class="d" x="465.2" y="180.6"/>
<rect class="d" x="466.9" y="182.4"/>
<rect class="d" x="465.3" y="183.6"/>
<rect class="d" x="461.7" y="195.7"/>
<rect class="d" x="461.8" y="188.6"/>
<rect class="d" x="461.1" y="191.6"/>
<rect class="d" x="459.7" y="194.0"/>
<rect class="d" x="462.0" y="189.6"/>
<rect class="d" x="459.3" y="190.7"/>
<rect class="d" x="462.0" y="187.7"/>
<rect class="d" x="460.5" y="187.7"/>
<rect class="d" x="458.7" y="187.6"/>
<rect class="d" x="458.8" y="192.2"/>
<rect class="d" x="460.5" y="198.0"/>
<rect class="d" x="460.1" y="192.6"/>
<rect class="d" x="459.6" y="187.4"/>
<rect class="d" x="459.7" y="194.9"/>
<rect class="d" x="461.7" y="187.5"/>
<rect class="d" x="461.9" y="194.5"/>
<rect class="d" x="459.3" y="194.3"/>
<rect class="d" x="460.4" y="187.4"/>
<rect class="d" x="461.6" y="190.7"/>
<rect class="d" x="461.7" y="196.5"/>
<rect class="d" x="460.3" y="187.5"/>
<rect class="d" x="459.4" y="187.1"/>
<rect class="d" x="461.3" y="188.5"/>
<rect class="d" x="461.4" y="197.6"/>
<rect class="d" x="461.9" y="188.0"/>
<rect class="d" x="459.3" y="189.6"/>
<rect class="d" x="460.9" y="187.4"/>
<rect class="d" x="458.8" y="191.4"/>
<rect class="d" x="461.4" y="193.8"/>
<rect class="d" x="459.0" y="192.1"/>
<rect class="d" x="460.6" y="187.2"/>
<rect class="d" x="459.8" y="190.8"/>
<rect class="d" x="460.8" y="196.1"/>
<rect class="d" x="458.9" y="190.2"/>
<rect class="d" x="461.1" y="196.5"/>
<rect class="d" x="460.4" y="190.2"/>
<rect class="d" x="464.1" y="188.6"/>
<rect class="d" x="464.6" y="191.7"/>
<rect class="d" x="464.1" y="191.0"/>
<rect class="d" x="464.7" y="190.3"/>
<rect class="d" x="465.6" y="195.2"/>
<rect class="d" x="465.2" y="193.2"/>
<rect class="d" x="464.0" y="191.5"/>
<rect class="d" x="464.6" y="187.4"/>
<rect class="d" x="466.0" y="191.0"/>
</g>
<g filter="url(#bt)">
<text x="21.00" y="138.60" text-anchor="middle" textLength="2.66" lengthAdjust="spacingAndGlyphs" font-size="5.6">0</text>
<text x="37.40" y="138.60" text-anchor="middle" textLength="5.32" lengthAdjust="spacingAndGlyphs" font-size="5.6">20</text>
<text x="53.80" y="138.60" text-anchor="middle" textLength="5.32" lengthAdjust="spacingAndGlyphs" font-size="5.6">40</text>
<text x="70.20" y="138.60" text-anchor="middle" textLength="5.32" lengthAdjust="spacingAndGlyphs" font-size="5.6">60</text>
<text x="86.60" y="138.60" text-anchor="middle" textLength="5.32" lengthAdjust="spacingAndGlyphs" font-size="5.6">80</text>
<text x="103.00" y="138.60" text-anchor="middle" textLength="7.37" lengthAdjust="spacingAndGlyphs" font-size="5.6">100</text>
<text x="18.80" y="133.20" text-anchor="end" textLength="2.66" lengthAdjust="spacingAndGlyphs" font-size="5.6">0</text>
<text x="18.80" y="120.70" text-anchor="end" textLength="4.71" lengthAdjust="spacingAndGlyphs" font-size="5.6">10</text>
<text x="18.80" y="108.20" text-anchor="end" textLength="5.32" lengthAdjust="spacingAndGlyphs" font-size="5.6">20</text>
<text x="18.80" y="95.70" text-anchor="end" textLength="5.32" lengthAdjust="spacingAndGlyphs" font-size="5.6">30</text>
<text x="18.80" y="83.20" text-anchor="end" textLength="5.32" lengthAdjust="spacingAndGlyphs" font-size="5.6">40</text>
<text x="18.80" y="70.70" text-anchor="end" textLength="5.32" lengthAdjust="spacingAndGlyphs" font-size="5.6">50</text>
<text x="18.80" y="58.20" text-anchor="end" textLength="5.32" lengthAdjust="spacingAndGlyphs" font-size="5.6">60</text>
<text x="18.80" y="45.70" text-anchor="end" textLength="5.32" lengthAdjust="spacingAndGlyphs" font-size="5.6">70</text>
<text x="18.80" y="33.20" text-anchor="end" textLength="5.32" lengthAdjust="spacingAndGlyphs" font-size="5.6">80</text>
<text x="18.80" y="20.70" text-anchor="end" textLength="5.32" lengthAdjust="spacingAndGlyphs" font-size="5.6">90</text>
<text x="18.80" y="8.20" text-anchor="end" textLength="7.37" lengthAdjust="spacingAndGlyphs" font-size="5.6">100</text>
<text x="62.00" y="146.60" text-anchor="middle" textLength="56.01" lengthAdjust="spacingAndGlyphs" font-size="6.2">Harmless treatment rate</text>
<text transform="translate(8.70,68.80) rotate(-90)" text-anchor="middle" font-size="6.2" textLength="77.0" lengthAdjust="spacingAndGlyphs">Comprehensive utilization rate</text>
<text x="130.20" y="138.60" text-anchor="middle" textLength="2.66" lengthAdjust="spacingAndGlyphs" font-size="5.6">0</text>
<text x="146.64" y="138.60" text-anchor="middle" textLength="7.37" lengthAdjust="spacingAndGlyphs" font-size="5.6">100</text>
<text x="163.08" y="138.60" text-anchor="middle" textLength="7.97" lengthAdjust="spacingAndGlyphs" font-size="5.6">200</text>
<text x="179.52" y="138.60" text-anchor="middle" textLength="7.97" lengthAdjust="spacingAndGlyphs" font-size="5.6">300</text>
<text x="195.96" y="138.60" text-anchor="middle" textLength="7.97" lengthAdjust="spacingAndGlyphs" font-size="5.6">400</text>
<text x="212.40" y="138.60" text-anchor="middle" textLength="7.97" lengthAdjust="spacingAndGlyphs" font-size="5.6">500</text>
<text x="128.00" y="133.20" text-anchor="end" textLength="2.66" lengthAdjust="spacingAndGlyphs" font-size="5.6">0</text>
<text x="128.00" y="120.70" text-anchor="end" textLength="4.71" lengthAdjust="spacingAndGlyphs" font-size="5.6">10</text>
<text x="128.00" y="108.20" text-anchor="end" textLength="5.32" lengthAdjust="spacingAndGlyphs" font-size="5.6">20</text>
<text x="128.00" y="95.70" text-anchor="end" textLength="5.32" lengthAdjust="spacingAndGlyphs" font-size="5.6">30</text>
<text x="128.00" y="83.20" text-anchor="end" textLength="5.32" lengthAdjust="spacingAndGlyphs" font-size="5.6">40</text>
<text x="128.00" y="70.70" text-anchor="end" textLength="5.32" lengthAdjust="spacingAndGlyphs" font-size="5.6">50</text>
<text x="128.00" y="58.20" text-anchor="end" textLength="5.32" lengthAdjust="spacingAndGlyphs" font-size="5.6">60</text>
<text x="128.00" y="45.70" text-anchor="end" textLength="5.32" lengthAdjust="spacingAndGlyphs" font-size="5.6">70</text>
<text x="128.00" y="33.20" text-anchor="end" textLength="5.32" lengthAdjust="spacingAndGlyphs" font-size="5.6">80</text>
<text x="128.00" y="20.70" text-anchor="end" textLength="5.32" lengthAdjust="spacingAndGlyphs" font-size="5.6">90</text>
<text x="128.00" y="8.20" text-anchor="end" textLength="7.37" lengthAdjust="spacingAndGlyphs" font-size="5.6">100</text>
<text x="171.30" y="146.60" text-anchor="middle" textLength="59.22" lengthAdjust="spacingAndGlyphs" font-size="6.2">Greenbelt area per capita</text>
<text transform="translate(117.90,68.80) rotate(-90)" text-anchor="middle" font-size="6.2" textLength="77.0" lengthAdjust="spacingAndGlyphs">Comprehensive utilization rate</text>
<text x="239.60" y="138.60" text-anchor="middle" textLength="2.66" lengthAdjust="spacingAndGlyphs" font-size="5.6">0</text>
<text x="256.00" y="138.60" text-anchor="middle" textLength="2.05" lengthAdjust="spacingAndGlyphs" font-size="5.6">1</text>
<text x="272.40" y="138.60" text-anchor="middle" textLength="2.66" lengthAdjust="spacingAndGlyphs" font-size="5.6">2</text>
<text x="288.80" y="138.60" text-anchor="middle" textLength="2.66" lengthAdjust="spacingAndGlyphs" font-size="5.6">3</text>
<text x="305.20" y="138.60" text-anchor="middle" textLength="2.66" lengthAdjust="spacingAndGlyphs" font-size="5.6">4</text>
<text x="321.60" y="138.60" text-anchor="middle" textLength="2.66" lengthAdjust="spacingAndGlyphs" font-size="5.6">5</text>
<text x="237.40" y="133.20" text-anchor="end" textLength="2.66" lengthAdjust="spacingAndGlyphs" font-size="5.6">0</text>
<text x="237.40" y="120.70" text-anchor="end" textLength="4.71" lengthAdjust="spacingAndGlyphs" font-size="5.6">10</text>
<text x="237.40" y="108.20" text-anchor="end" textLength="5.32" lengthAdjust="spacingAndGlyphs" font-size="5.6">20</text>
<text x="237.40" y="95.70" text-anchor="end" textLength="5.32" lengthAdjust="spacingAndGlyphs" font-size="5.6">30</text>
<text x="237.40" y="83.20" text-anchor="end" textLength="5.32" lengthAdjust="spacingAndGlyphs" font-size="5.6">40</text>
<text x="237.40" y="70.70" text-anchor="end" textLength="5.32" lengthAdjust="spacingAndGlyphs" font-size="5.6">50</text>
<text x="237.40" y="58.20" text-anchor="end" textLength="5.32" lengthAdjust="spacingAndGlyphs" font-size="5.6">60</text>
<text x="237.40" y="45.70" text-anchor="end" textLength="5.32" lengthAdjust="spacingAndGlyphs" font-size="5.6">70</text>
<text x="237.40" y="33.20" text-anchor="end" textLength="5.32" lengthAdjust="spacingAndGlyphs" font-size="5.6">80</text>
<text x="237.40" y="20.70" text-anchor="end" textLength="5.32" lengthAdjust="spacingAndGlyphs" font-size="5.6">90</text>
<text x="237.40" y="8.20" text-anchor="end" textLength="7.37" lengthAdjust="spacingAndGlyphs" font-size="5.6">100</text>
<text x="280.60" y="146.60" text-anchor="middle" textLength="57.75" lengthAdjust="spacingAndGlyphs" font-size="6.2">Industrial SO2 emissions</text>
<text x="311.00" y="146.60" font-size="4">&#215;</text>
<text x="314.40" y="146.60" font-size="5" textLength="4.6" lengthAdjust="spacingAndGlyphs">10</text>
<text x="319.40" y="145.00" font-size="4.6" textLength="2.3" lengthAdjust="spacingAndGlyphs">5</text>
<text transform="translate(227.30,68.80) rotate(-90)" text-anchor="middle" font-size="6.2" textLength="77.0" lengthAdjust="spacingAndGlyphs">Comprehensive utilization rate</text>
<text x="348.60" y="138.60" text-anchor="middle" textLength="2.66" lengthAdjust="spacingAndGlyphs" font-size="5.6">0</text>
<text x="369.20" y="138.60" text-anchor="middle" textLength="6.65" lengthAdjust="spacingAndGlyphs" font-size="5.6">0.5</text>
<text x="389.80" y="138.60" text-anchor="middle" textLength="2.05" lengthAdjust="spacingAndGlyphs" font-size="5.6">1</text>
<text x="410.40" y="138.60" text-anchor="middle" textLength="6.04" lengthAdjust="spacingAndGlyphs" font-size="5.6">1.5</text>
<text x="431.00" y="138.60" text-anchor="middle" textLength="2.66" lengthAdjust="spacingAndGlyphs" font-size="5.6">2</text>
<text x="346.40" y="133.20" text-anchor="end" textLength="2.66" lengthAdjust="spacingAndGlyphs" font-size="5.6">0</text>
<text x="346.40" y="120.70" text-anchor="end" textLength="4.71" lengthAdjust="spacingAndGlyphs" font-size="5.6">10</text>
<text x="346.40" y="108.20" text-anchor="end" textLength="5.32" lengthAdjust="spacingAndGlyphs" font-size="5.6">20</text>
<text x="346.40" y="95.70" text-anchor="end" textLength="5.32" lengthAdjust="spacingAndGlyphs" font-size="5.6">30</text>
<text x="346.40" y="83.20" text-anchor="end" textLength="5.32" lengthAdjust="spacingAndGlyphs" font-size="5.6">40</text>
<text x="346.40" y="70.70" text-anchor="end" textLength="5.32" lengthAdjust="spacingAndGlyphs" font-size="5.6">50</text>
<text x="346.40" y="58.20" text-anchor="end" textLength="5.32" lengthAdjust="spacingAndGlyphs" font-size="5.6">60</text>
<text x="346.40" y="45.70" text-anchor="end" textLength="5.32" lengthAdjust="spacingAndGlyphs" font-size="5.6">70</text>
<text x="346.40" y="33.20" text-anchor="end" textLength="5.32" lengthAdjust="spacingAndGlyphs" font-size="5.6">80</text>
<text x="346.40" y="20.70" text-anchor="end" textLength="5.32" lengthAdjust="spacingAndGlyphs" font-size="5.6">90</text>
<text x="346.40" y="8.20" text-anchor="end" textLength="7.37" lengthAdjust="spacingAndGlyphs" font-size="5.6">100</text>
<text x="389.80" y="146.60" text-anchor="middle" textLength="57.18" lengthAdjust="spacingAndGlyphs" font-size="6.2">Industrial soot emissions</text>
<text x="420.40" y="146.60" font-size="4">&#215;</text>
<text x="423.80" y="146.60" font-size="5" textLength="4.6" lengthAdjust="spacingAndGlyphs">10</text>
<text x="428.80" y="145.00" font-size="4.6" textLength="2.3" lengthAdjust="spacingAndGlyphs">6</text>
<text transform="translate(336.30,68.80) rotate(-90)" text-anchor="middle" font-size="6.2" textLength="77.0" lengthAdjust="spacingAndGlyphs">Comprehensive utilization rate</text>
<text x="458.50" y="138.60" text-anchor="middle" textLength="2.66" lengthAdjust="spacingAndGlyphs" font-size="5.6">0</text>
<text x="479.12" y="138.60" text-anchor="middle" textLength="6.65" lengthAdjust="spacingAndGlyphs" font-size="5.6">0.5</text>
<text x="499.75" y="138.60" text-anchor="middle" textLength="2.05" lengthAdjust="spacingAndGlyphs" font-size="5.6">1</text>
<text x="520.38" y="138.60" text-anchor="middle" textLength="6.04" lengthAdjust="spacingAndGlyphs" font-size="5.6">1.5</text>
<text x="541.00" y="138.60" text-anchor="middle" textLength="2.66" lengthAdjust="spacingAndGlyphs" font-size="5.6">2</text>
<text x="456.30" y="133.20" text-anchor="end" textLength="2.66" lengthAdjust="spacingAndGlyphs" font-size="5.6">0</text>
<text x="456.30" y="121.84" text-anchor="end" textLength="4.71" lengthAdjust="spacingAndGlyphs" font-size="5.6">10</text>
<text x="456.30" y="110.47" text-anchor="end" textLength="5.32" lengthAdjust="spacingAndGlyphs" font-size="5.6">20</text>
<text x="456.30" y="99.11" text-anchor="end" textLength="5.32" lengthAdjust="spacingAndGlyphs" font-size="5.6">30</text>
<text x="456.30" y="87.75" text-anchor="end" textLength="5.32" lengthAdjust="spacingAndGlyphs" font-size="5.6">40</text>
<text x="456.30" y="76.38" text-anchor="end" textLength="5.32" lengthAdjust="spacingAndGlyphs" font-size="5.6">50</text>
<text x="456.30" y="65.02" text-anchor="end" textLength="5.32" lengthAdjust="spacingAndGlyphs" font-size="5.6">60</text>
<text x="456.30" y="53.65" text-anchor="end" textLength="5.32" lengthAdjust="spacingAndGlyphs" font-size="5.6">70</text>
<text x="456.30" y="42.29" text-anchor="end" textLength="5.32" lengthAdjust="spacingAndGlyphs" font-size="5.6">80</text>
<text x="456.30" y="30.93" text-anchor="end" textLength="5.32" lengthAdjust="spacingAndGlyphs" font-size="5.6">90</text>
<text x="456.30" y="19.56" text-anchor="end" textLength="7.37" lengthAdjust="spacingAndGlyphs" font-size="5.6">100</text>
<text x="499.75" y="146.60" text-anchor="middle" textLength="57.09" lengthAdjust="spacingAndGlyphs" font-size="6.2">Value of waste utilization</text>
<text x="530.40" y="146.60" font-size="4">&#215;</text>
<text x="533.80" y="146.60" font-size="5" textLength="4.6" lengthAdjust="spacingAndGlyphs">10</text>
<text x="538.80" y="145.00" font-size="4.6" textLength="2.3" lengthAdjust="spacingAndGlyphs">8</text>
<text transform="translate(446.20,68.80) rotate(-90)" text-anchor="middle" font-size="6.2" textLength="77.0" lengthAdjust="spacingAndGlyphs">Comprehensive utilization rate</text>
<text x="20.70" y="312.60" text-anchor="middle" textLength="2.66" lengthAdjust="spacingAndGlyphs" font-size="5.6">0</text>
<text x="41.27" y="312.60" text-anchor="middle" textLength="2.05" lengthAdjust="spacingAndGlyphs" font-size="5.6">1</text>
<text x="61.85" y="312.60" text-anchor="middle" textLength="2.66" lengthAdjust="spacingAndGlyphs" font-size="5.6">2</text>
<text x="82.42" y="312.60" text-anchor="middle" textLength="2.66" lengthAdjust="spacingAndGlyphs" font-size="5.6">3</text>
<text x="103.00" y="312.60" text-anchor="middle" textLength="2.66" lengthAdjust="spacingAndGlyphs" font-size="5.6">4</text>
<text x="18.50" y="307.20" text-anchor="end" textLength="2.66" lengthAdjust="spacingAndGlyphs" font-size="5.6">0</text>
<text x="18.50" y="287.39" text-anchor="end" textLength="5.32" lengthAdjust="spacingAndGlyphs" font-size="5.6">20</text>
<text x="18.50" y="267.58" text-anchor="end" textLength="5.32" lengthAdjust="spacingAndGlyphs" font-size="5.6">40</text>
<text x="18.50" y="247.77" text-anchor="end" textLength="5.32" lengthAdjust="spacingAndGlyphs" font-size="5.6">60</text>
<text x="18.50" y="227.96" text-anchor="end" textLength="5.32" lengthAdjust="spacingAndGlyphs" font-size="5.6">80</text>
<text x="18.50" y="208.15" text-anchor="end" textLength="7.37" lengthAdjust="spacingAndGlyphs" font-size="5.6">100</text>
<text x="18.50" y="188.34" text-anchor="end" textLength="7.37" lengthAdjust="spacingAndGlyphs" font-size="5.6">120</text>
<text x="61.85" y="320.60" text-anchor="middle" textLength="34.26" lengthAdjust="spacingAndGlyphs" font-size="6.2">Saving deposit</text>
<text x="92.40" y="320.60" font-size="4">&#215;</text>
<text x="95.80" y="320.60" font-size="5" textLength="4.6" lengthAdjust="spacingAndGlyphs">10</text>
<text x="100.80" y="319.00" font-size="4.6" textLength="2.3" lengthAdjust="spacingAndGlyphs">8</text>
<text transform="translate(8.40,242.90) rotate(-90)" text-anchor="middle" font-size="6.2" textLength="77.0" lengthAdjust="spacingAndGlyphs">Comprehensive utilization rate</text>
<text x="130.30" y="312.60" text-anchor="middle" textLength="2.66" lengthAdjust="spacingAndGlyphs" font-size="5.6">0</text>
<text x="150.83" y="312.60" text-anchor="middle" textLength="2.05" lengthAdjust="spacingAndGlyphs" font-size="5.6">1</text>
<text x="171.35" y="312.60" text-anchor="middle" textLength="2.66" lengthAdjust="spacingAndGlyphs" font-size="5.6">2</text>
<text x="191.88" y="312.60" text-anchor="middle" textLength="2.66" lengthAdjust="spacingAndGlyphs" font-size="5.6">3</text>
<text x="212.40" y="312.60" text-anchor="middle" textLength="2.66" lengthAdjust="spacingAndGlyphs" font-size="5.6">4</text>
<text x="128.10" y="307.20" text-anchor="end" textLength="2.66" lengthAdjust="spacingAndGlyphs" font-size="5.6">0</text>
<text x="128.10" y="295.64" text-anchor="end" textLength="4.71" lengthAdjust="spacingAndGlyphs" font-size="5.6">10</text>
<text x="128.10" y="284.09" text-anchor="end" textLength="5.32" lengthAdjust="spacingAndGlyphs" font-size="5.6">20</text>
<text x="128.10" y="272.53" text-anchor="end" textLength="5.32" lengthAdjust="spacingAndGlyphs" font-size="5.6">30</text>
<text x="128.10" y="260.98" text-anchor="end" textLength="5.32" lengthAdjust="spacingAndGlyphs" font-size="5.6">40</text>
<text x="128.10" y="249.42" text-anchor="end" textLength="5.32" lengthAdjust="spacingAndGlyphs" font-size="5.6">50</text>
<text x="128.10" y="237.87" text-anchor="end" textLength="5.32" lengthAdjust="spacingAndGlyphs" font-size="5.6">60</text>
<text x="128.10" y="226.31" text-anchor="end" textLength="5.32" lengthAdjust="spacingAndGlyphs" font-size="5.6">70</text>
<text x="128.10" y="214.76" text-anchor="end" textLength="5.32" lengthAdjust="spacingAndGlyphs" font-size="5.6">80</text>
<text x="128.10" y="203.20" text-anchor="end" textLength="5.32" lengthAdjust="spacingAndGlyphs" font-size="5.6">90</text>
<text x="128.10" y="191.64" text-anchor="end" textLength="7.37" lengthAdjust="spacingAndGlyphs" font-size="5.6">100</text>
<text x="171.35" y="320.60" text-anchor="middle" textLength="51.08" lengthAdjust="spacingAndGlyphs" font-size="6.2">Total volume of freight</text>
<text x="201.80" y="320.60" font-size="4">&#215;</text>
<text x="205.20" y="320.60" font-size="5" textLength="4.6" lengthAdjust="spacingAndGlyphs">10</text>
<text x="210.20" y="319.00" font-size="4.6" textLength="2.3" lengthAdjust="spacingAndGlyphs">5</text>
<text transform="translate(118.00,242.90) rotate(-90)" text-anchor="middle" font-size="6.2" textLength="77.0" lengthAdjust="spacingAndGlyphs">Comprehensive utilization rate</text>
<text x="239.70" y="312.60" text-anchor="middle" textLength="2.66" lengthAdjust="spacingAndGlyphs" font-size="5.6">0</text>
<text x="260.27" y="312.60" text-anchor="middle" textLength="10.03" lengthAdjust="spacingAndGlyphs" font-size="5.6">1000</text>
<text x="280.85" y="312.60" text-anchor="middle" textLength="10.63" lengthAdjust="spacingAndGlyphs" font-size="5.6">2000</text>
<text x="301.43" y="312.60" text-anchor="middle" textLength="10.63" lengthAdjust="spacingAndGlyphs" font-size="5.6">3000</text>
<text x="322.00" y="312.60" text-anchor="middle" textLength="10.63" lengthAdjust="spacingAndGlyphs" font-size="5.6">4000</text>
<text x="237.50" y="307.20" text-anchor="end" textLength="2.66" lengthAdjust="spacingAndGlyphs" font-size="5.6">0</text>
<text x="237.50" y="292.07" text-anchor="end" textLength="5.32" lengthAdjust="spacingAndGlyphs" font-size="5.6">20</text>
<text x="237.50" y="276.95" text-anchor="end" textLength="5.32" lengthAdjust="spacingAndGlyphs" font-size="5.6">40</text>
<text x="237.50" y="261.82" text-anchor="end" textLength="5.32" lengthAdjust="spacingAndGlyphs" font-size="5.6">60</text>
<text x="237.50" y="246.69" text-anchor="end" textLength="5.32" lengthAdjust="spacingAndGlyphs" font-size="5.6">80</text>
<text x="237.50" y="231.56" text-anchor="end" textLength="7.37" lengthAdjust="spacingAndGlyphs" font-size="5.6">100</text>
<text x="237.50" y="216.44" text-anchor="end" textLength="7.37" lengthAdjust="spacingAndGlyphs" font-size="5.6">120</text>
<text x="237.50" y="201.31" text-anchor="end" textLength="7.37" lengthAdjust="spacingAndGlyphs" font-size="5.6">140</text>
<text x="237.50" y="186.18" text-anchor="end" textLength="7.37" lengthAdjust="spacingAndGlyphs" font-size="5.6">160</text>
<text x="280.85" y="320.60" text-anchor="middle" textLength="42.68" lengthAdjust="spacingAndGlyphs" font-size="6.2">Population density</text>
<text transform="translate(227.40,242.90) rotate(-90)" text-anchor="middle" font-size="6.2" textLength="77.0" lengthAdjust="spacingAndGlyphs">Comprehensive utilization rate</text>
<text x="349.00" y="312.60" text-anchor="middle" textLength="2.66" lengthAdjust="spacingAndGlyphs" font-size="5.6">0</text>
<text x="369.62" y="312.60" text-anchor="middle" textLength="6.65" lengthAdjust="spacingAndGlyphs" font-size="5.6">0.5</text>
<text x="390.25" y="312.60" text-anchor="middle" textLength="2.05" lengthAdjust="spacingAndGlyphs" font-size="5.6">1</text>
<text x="410.88" y="312.60" text-anchor="middle" textLength="6.04" lengthAdjust="spacingAndGlyphs" font-size="5.6">1.5</text>
<text x="431.50" y="312.60" text-anchor="middle" textLength="2.66" lengthAdjust="spacingAndGlyphs" font-size="5.6">2</text>
<text x="346.80" y="307.20" text-anchor="end" textLength="2.66" lengthAdjust="spacingAndGlyphs" font-size="5.6">0</text>
<text x="346.80" y="294.72" text-anchor="end" textLength="4.71" lengthAdjust="spacingAndGlyphs" font-size="5.6">10</text>
<text x="346.80" y="282.24" text-anchor="end" textLength="5.32" lengthAdjust="spacingAndGlyphs" font-size="5.6">20</text>
<text x="346.80" y="269.76" text-anchor="end" textLength="5.32" lengthAdjust="spacingAndGlyphs" font-size="5.6">30</text>
<text x="346.80" y="257.28" text-anchor="end" textLength="5.32" lengthAdjust="spacingAndGlyphs" font-size="5.6">40</text>
<text x="346.80" y="244.80" text-anchor="end" textLength="5.32" lengthAdjust="spacingAndGlyphs" font-size="5.6">50</text>
<text x="346.80" y="232.32" text-anchor="end" textLength="5.32" lengthAdjust="spacingAndGlyphs" font-size="5.6">60</text>
<text x="346.80" y="219.84" text-anchor="end" textLength="5.32" lengthAdjust="spacingAndGlyphs" font-size="5.6">70</text>
<text x="346.80" y="207.36" text-anchor="end" textLength="5.32" lengthAdjust="spacingAndGlyphs" font-size="5.6">80</text>
<text x="346.80" y="194.88" text-anchor="end" textLength="5.32" lengthAdjust="spacingAndGlyphs" font-size="5.6">90</text>
<text x="346.80" y="182.40" text-anchor="end" textLength="7.37" lengthAdjust="spacingAndGlyphs" font-size="5.6">100</text>
<text x="390.25" y="320.60" text-anchor="middle" textLength="35.60" lengthAdjust="spacingAndGlyphs" font-size="6.2">GDP per capita</text>
<text x="420.90" y="320.60" font-size="4">&#215;</text>
<text x="424.30" y="320.60" font-size="5" textLength="4.6" lengthAdjust="spacingAndGlyphs">10</text>
<text x="429.30" y="319.00" font-size="4.6" textLength="2.3" lengthAdjust="spacingAndGlyphs">5</text>
<text transform="translate(336.70,242.90) rotate(-90)" text-anchor="middle" font-size="6.2" textLength="77.0" lengthAdjust="spacingAndGlyphs">Comprehensive utilization rate</text>
<text x="458.50" y="312.60" text-anchor="middle" textLength="2.66" lengthAdjust="spacingAndGlyphs" font-size="5.6">0</text>
<text x="479.00" y="312.60" text-anchor="middle" textLength="7.97" lengthAdjust="spacingAndGlyphs" font-size="5.6">500</text>
<text x="499.50" y="312.60" text-anchor="middle" textLength="10.03" lengthAdjust="spacingAndGlyphs" font-size="5.6">1000</text>
<text x="520.00" y="312.60" text-anchor="middle" textLength="10.03" lengthAdjust="spacingAndGlyphs" font-size="5.6">1500</text>
<text x="540.50" y="312.60" text-anchor="middle" textLength="10.63" lengthAdjust="spacingAndGlyphs" font-size="5.6">2000</text>
<text x="456.30" y="307.20" text-anchor="end" textLength="2.66" lengthAdjust="spacingAndGlyphs" font-size="5.6">0</text>
<text x="456.30" y="294.72" text-anchor="end" textLength="4.71" lengthAdjust="spacingAndGlyphs" font-size="5.6">10</text>
<text x="456.30" y="282.24" text-anchor="end" textLength="5.32" lengthAdjust="spacingAndGlyphs" font-size="5.6">20</text>
<text x="456.30" y="269.76" text-anchor="end" textLength="5.32" lengthAdjust="spacingAndGlyphs" font-size="5.6">30</text>
<text x="456.30" y="257.28" text-anchor="end" textLength="5.32" lengthAdjust="spacingAndGlyphs" font-size="5.6">40</text>
<text x="456.30" y="244.80" text-anchor="end" textLength="5.32" lengthAdjust="spacingAndGlyphs" font-size="5.6">50</text>
<text x="456.30" y="232.32" text-anchor="end" textLength="5.32" lengthAdjust="spacingAndGlyphs" font-size="5.6">60</text>
<text x="456.30" y="219.84" text-anchor="end" textLength="5.32" lengthAdjust="spacingAndGlyphs" font-size="5.6">70</text>
<text x="456.30" y="207.36" text-anchor="end" textLength="5.32" lengthAdjust="spacingAndGlyphs" font-size="5.6">80</text>
<text x="456.30" y="194.88" text-anchor="end" textLength="5.32" lengthAdjust="spacingAndGlyphs" font-size="5.6">90</text>
<text x="456.30" y="182.40" text-anchor="end" textLength="7.37" lengthAdjust="spacingAndGlyphs" font-size="5.6">100</text>
<text x="499.50" y="320.60" text-anchor="middle" textLength="39.48" lengthAdjust="spacingAndGlyphs" font-size="6.2">Educational level</text>
<text transform="translate(446.20,242.90) rotate(-90)" text-anchor="middle" font-size="6.2" textLength="77.0" lengthAdjust="spacingAndGlyphs">Comprehensive utilization rate</text>
</g>
</svg></body></html>
